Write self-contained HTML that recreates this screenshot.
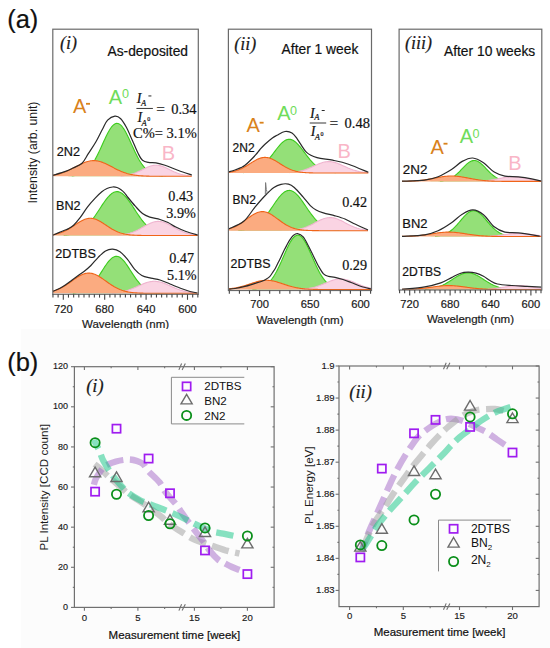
<!DOCTYPE html>
<html><head><meta charset="utf-8"><style>
html,body{margin:0;padding:0;background:#fff;width:550px;height:648px;overflow:hidden;}
svg{display:block;}
</style></head><body>
<svg width="550" height="648" viewBox="0 0 550 648"><clipPath id="clip0"><rect x="52.8" y="29.2" width="145.5" height="265.1"/></clipPath>
<g clip-path="url(#clip0)">
<path d="M52.8,176.3 L53.8,176.3 L54.8,176.29 L55.8,176.29 L56.8,176.29 L57.8,176.29 L58.8,176.28 L59.8,176.28 L60.8,176.27 L61.8,176.26 L62.8,176.25 L63.8,176.24 L64.8,176.22 L65.8,176.2 L66.8,176.17 L67.8,176.13 L68.8,176.09 L69.8,176.04 L70.8,175.97 L71.8,175.89 L72.8,175.79 L73.8,175.67 L74.8,175.53 L75.8,175.37 L76.8,175.17 L77.8,174.93 L78.8,174.65 L79.8,174.33 L80.8,173.96 L81.8,173.52 L82.8,173.02 L83.8,172.45 L84.8,171.81 L85.8,171.08 L86.8,170.25 L87.8,169.34 L88.8,168.32 L89.8,167.19 L90.8,165.96 L91.8,164.62 L92.8,163.16 L93.8,161.59 L94.8,159.91 L95.8,158.13 L96.8,156.25 L97.8,154.28 L98.8,152.24 L99.8,150.12 L100.8,147.96 L101.8,145.76 L102.8,143.55 L103.8,141.35 L104.8,139.17 L105.8,137.04 L106.8,134.99 L107.8,133.04 L108.8,131.22 L109.8,129.54 L110.8,128.02 L111.8,126.69 L112.8,125.57 L113.8,124.67 L114.8,124.01 L115.8,123.58 L116.8,123.41 L117.8,123.48 L118.8,123.81 L119.8,124.38 L120.8,125.19 L121.8,126.22 L122.8,127.47 L123.8,128.91 L124.8,130.53 L125.8,132.3 L126.8,134.2 L127.8,136.21 L128.8,138.31 L129.8,140.47 L130.8,142.67 L131.8,144.88 L132.8,147.08 L133.8,149.26 L134.8,151.4 L135.8,153.47 L136.8,155.48 L137.8,157.39 L138.8,159.21 L139.8,160.93 L140.8,162.55 L141.8,164.05 L142.8,165.44 L143.8,166.71 L144.8,167.88 L145.8,168.94 L146.8,169.9 L147.8,170.76 L148.8,171.52 L149.8,172.2 L150.8,172.8 L151.8,173.33 L152.8,173.79 L153.8,174.19 L154.8,174.53 L155.8,174.83 L156.8,175.08 L157.8,175.29 L158.8,175.47 L159.8,175.62 L160.8,175.75 L161.8,175.85 L162.8,175.94 L163.8,176.01 L164.8,176.07 L165.8,176.12 L166.8,176.15 L167.8,176.19 L168.8,176.21 L169.8,176.23 L170.8,176.25 L171.8,176.26 L172.8,176.27 L173.8,176.28 L174.8,176.28 L175.8,176.29 L176.8,176.29 L177.8,176.29 L178.8,176.29 L179.8,176.3 L180.8,176.3 L181.8,176.3 L182.8,176.3 L183.8,176.3 L184.8,176.3 L185.8,176.3 L186.8,176.3 L187.8,176.3 L188.8,176.3 L189.8,176.3 L190.8,176.3 L191.8,176.3 L191.8,176.3 L52.8,176.3 Z" fill="#94e078" stroke="none"/>
<path d="M71.8,175.89 L72.8,175.79 L73.8,175.67 L74.8,175.53 L75.8,175.37 L76.8,175.17 L77.8,174.93 L78.8,174.65 L79.8,174.33 L80.8,173.96 L81.8,173.52 L82.8,173.02 L83.8,172.45 L84.8,171.81 L85.8,171.08 L86.8,170.25 L87.8,169.34 L88.8,168.32 L89.8,167.19 L90.8,165.96 L91.8,164.62 L92.8,163.16 L93.8,161.59 L94.8,159.91 L95.8,158.13 L96.8,156.25 L97.8,154.28 L98.8,152.24 L99.8,150.12 L100.8,147.96 L101.8,145.76 L102.8,143.55 L103.8,141.35 L104.8,139.17 L105.8,137.04 L106.8,134.99 L107.8,133.04 L108.8,131.22 L109.8,129.54 L110.8,128.02 L111.8,126.69 L112.8,125.57 L113.8,124.67 L114.8,124.01 L115.8,123.58 L116.8,123.41 L117.8,123.48 L118.8,123.81 L119.8,124.38 L120.8,125.19 L121.8,126.22 L122.8,127.47 L123.8,128.91 L124.8,130.53 L125.8,132.3 L126.8,134.2 L127.8,136.21 L128.8,138.31 L129.8,140.47 L130.8,142.67 L131.8,144.88 L132.8,147.08 L133.8,149.26 L134.8,151.4 L135.8,153.47 L136.8,155.48 L137.8,157.39 L138.8,159.21 L139.8,160.93 L140.8,162.55 L141.8,164.05 L142.8,165.44 L143.8,166.71 L144.8,167.88 L145.8,168.94 L146.8,169.9 L147.8,170.76 L148.8,171.52 L149.8,172.2 L150.8,172.8 L151.8,173.33 L152.8,173.79 L153.8,174.19 L154.8,174.53 L155.8,174.83 L156.8,175.08 L157.8,175.29 L158.8,175.47 L159.8,175.62 L160.8,175.75 L161.8,175.85 L162.8,175.94" fill="none" stroke="#3ccc1c" stroke-width="1.1"/>
<path d="M52.8,176.3 L53.8,176.3 L54.8,176.3 L55.8,176.3 L56.8,176.3 L57.8,176.3 L58.8,176.3 L59.8,176.3 L60.8,176.3 L61.8,176.3 L62.8,176.3 L63.8,176.3 L64.8,176.3 L65.8,176.3 L66.8,176.3 L67.8,176.3 L68.8,176.3 L69.8,176.3 L70.8,176.3 L71.8,176.3 L72.8,176.3 L73.8,176.3 L74.8,176.3 L75.8,176.3 L76.8,176.3 L77.8,176.3 L78.8,176.3 L79.8,176.3 L80.8,176.3 L81.8,176.3 L82.8,176.3 L83.8,176.3 L84.8,176.3 L85.8,176.3 L86.8,176.3 L87.8,176.3 L88.8,176.3 L89.8,176.3 L90.8,176.3 L91.8,176.3 L92.8,176.3 L93.8,176.3 L94.8,176.3 L95.8,176.3 L96.8,176.3 L97.8,176.3 L98.8,176.3 L99.8,176.3 L100.8,176.3 L101.8,176.3 L102.8,176.3 L103.8,176.29 L104.8,176.29 L105.8,176.29 L106.8,176.29 L107.8,176.28 L108.8,176.28 L109.8,176.27 L110.8,176.26 L111.8,176.25 L112.8,176.23 L113.8,176.22 L114.8,176.19 L115.8,176.17 L116.8,176.14 L117.8,176.1 L118.8,176.05 L119.8,176 L120.8,175.93 L121.8,175.85 L122.8,175.76 L123.8,175.65 L124.8,175.53 L125.8,175.39 L126.8,175.23 L127.8,175.05 L128.8,174.84 L129.8,174.61 L130.8,174.36 L131.8,174.07 L132.8,173.76 L133.8,173.43 L134.8,173.07 L135.8,172.68 L136.8,172.26 L137.8,171.83 L138.8,171.37 L139.8,170.9 L140.8,170.41 L141.8,169.92 L142.8,169.42 L143.8,168.92 L144.8,168.43 L145.8,167.96 L146.8,167.5 L147.8,167.07 L148.8,166.67 L149.8,166.31 L150.8,165.99 L151.8,165.72 L152.8,165.51 L153.8,165.35 L154.8,165.24 L155.8,165.2 L156.8,165.22 L157.8,165.3 L158.8,165.44 L159.8,165.63 L160.8,165.88 L161.8,166.18 L162.8,166.52 L163.8,166.91 L164.8,167.32 L165.8,167.77 L166.8,168.24 L167.8,168.72 L168.8,169.22 L169.8,169.72 L170.8,170.21 L171.8,170.7 L172.8,171.18 L173.8,171.65 L174.8,172.09 L175.8,172.51 L176.8,172.91 L177.8,173.29 L178.8,173.63 L179.8,173.95 L180.8,174.25 L181.8,174.51 L182.8,174.75 L183.8,174.97 L184.8,175.16 L185.8,175.33 L186.8,175.48 L187.8,175.61 L188.8,175.72 L189.8,175.82 L190.8,175.9 L191.8,175.97 L191.8,176.3 L52.8,176.3 Z" fill="#fad4e3" stroke="none"/>
<path d="M120.8,175.93 L121.8,175.85 L122.8,175.76 L123.8,175.65 L124.8,175.53 L125.8,175.39 L126.8,175.23 L127.8,175.05 L128.8,174.84 L129.8,174.61 L130.8,174.36 L131.8,174.07 L132.8,173.76 L133.8,173.43 L134.8,173.07 L135.8,172.68 L136.8,172.26 L137.8,171.83 L138.8,171.37 L139.8,170.9 L140.8,170.41 L141.8,169.92 L142.8,169.42 L143.8,168.92 L144.8,168.43 L145.8,167.96 L146.8,167.5 L147.8,167.07 L148.8,166.67 L149.8,166.31 L150.8,165.99 L151.8,165.72 L152.8,165.51 L153.8,165.35 L154.8,165.24 L155.8,165.2 L156.8,165.22 L157.8,165.3 L158.8,165.44 L159.8,165.63 L160.8,165.88 L161.8,166.18 L162.8,166.52 L163.8,166.91 L164.8,167.32 L165.8,167.77 L166.8,168.24 L167.8,168.72 L168.8,169.22 L169.8,169.72 L170.8,170.21 L171.8,170.7 L172.8,171.18 L173.8,171.65 L174.8,172.09 L175.8,172.51 L176.8,172.91 L177.8,173.29 L178.8,173.63 L179.8,173.95 L180.8,174.25 L181.8,174.51 L182.8,174.75 L183.8,174.97 L184.8,175.16 L185.8,175.33 L186.8,175.48 L187.8,175.61 L188.8,175.72 L189.8,175.82 L190.8,175.9" fill="none" stroke="#efb4cf" stroke-width="1.1"/>
<path d="M52.8,175.11 L53.8,174.95 L54.8,174.78 L55.8,174.59 L56.8,174.38 L57.8,174.15 L58.8,173.9 L59.8,173.64 L60.8,173.35 L61.8,173.03 L62.8,172.7 L63.8,172.35 L64.8,171.97 L65.8,171.58 L66.8,171.16 L67.8,170.72 L68.8,170.27 L69.8,169.8 L70.8,169.31 L71.8,168.81 L72.8,168.3 L73.8,167.78 L74.8,167.25 L75.8,166.72 L76.8,166.2 L77.8,165.67 L78.8,165.15 L79.8,164.65 L80.8,164.16 L81.8,163.68 L82.8,163.23 L83.8,162.8 L84.8,162.41 L85.8,162.04 L86.8,161.71 L87.8,161.42 L88.8,161.17 L89.8,160.96 L90.8,160.8 L91.8,160.69 L92.8,160.62 L93.8,160.6 L94.8,160.63 L95.8,160.71 L96.8,160.83 L97.8,161 L98.8,161.22 L99.8,161.48 L100.8,161.78 L101.8,162.11 L102.8,162.48 L103.8,162.89 L104.8,163.32 L105.8,163.78 L106.8,164.25 L107.8,164.75 L108.8,165.26 L109.8,165.78 L110.8,166.3 L111.8,166.83 L112.8,167.36 L113.8,167.88 L114.8,168.4 L115.8,168.91 L116.8,169.41 L117.8,169.89 L118.8,170.36 L119.8,170.81 L120.8,171.25 L121.8,171.66 L122.8,172.05 L123.8,172.42 L124.8,172.77 L125.8,173.1 L126.8,173.41 L127.8,173.69 L128.8,173.95 L129.8,174.2 L130.8,174.42 L131.8,174.63 L132.8,174.82 L133.8,174.99 L134.8,175.14 L135.8,175.28 L136.8,175.41 L137.8,175.52 L138.8,175.62 L139.8,175.71 L140.8,175.79 L141.8,175.86 L142.8,175.92 L143.8,175.97 L144.8,176.02 L145.8,176.06 L146.8,176.1 L147.8,176.13 L148.8,176.16 L149.8,176.18 L150.8,176.2 L151.8,176.21 L152.8,176.23 L153.8,176.24 L154.8,176.25 L155.8,176.26 L156.8,176.27 L157.8,176.27 L158.8,176.28 L159.8,176.28 L160.8,176.28 L161.8,176.29 L162.8,176.29 L163.8,176.29 L164.8,176.29 L165.8,176.29 L166.8,176.3 L167.8,176.3 L168.8,176.3 L169.8,176.3 L170.8,176.3 L171.8,176.3 L172.8,176.3 L173.8,176.3 L174.8,176.3 L175.8,176.3 L176.8,176.3 L177.8,176.3 L178.8,176.3 L179.8,176.3 L180.8,176.3 L181.8,176.3 L182.8,176.3 L183.8,176.3 L184.8,176.3 L185.8,176.3 L186.8,176.3 L187.8,176.3 L188.8,176.3 L189.8,176.3 L190.8,176.3 L191.8,176.3 L191.8,176.3 L52.8,176.3 Z" fill="#fbab80" stroke="none"/>
<path d="M52.8,175.11 L53.8,174.95 L54.8,174.78 L55.8,174.59 L56.8,174.38 L57.8,174.15 L58.8,173.9 L59.8,173.64 L60.8,173.35 L61.8,173.03 L62.8,172.7 L63.8,172.35 L64.8,171.97 L65.8,171.58 L66.8,171.16 L67.8,170.72 L68.8,170.27 L69.8,169.8 L70.8,169.31 L71.8,168.81 L72.8,168.3 L73.8,167.78 L74.8,167.25 L75.8,166.72 L76.8,166.2 L77.8,165.67 L78.8,165.15 L79.8,164.65 L80.8,164.16 L81.8,163.68 L82.8,163.23 L83.8,162.8 L84.8,162.41 L85.8,162.04 L86.8,161.71 L87.8,161.42 L88.8,161.17 L89.8,160.96 L90.8,160.8 L91.8,160.69 L92.8,160.62 L93.8,160.6 L94.8,160.63 L95.8,160.71 L96.8,160.83 L97.8,161 L98.8,161.22 L99.8,161.48 L100.8,161.78 L101.8,162.11 L102.8,162.48 L103.8,162.89 L104.8,163.32 L105.8,163.78 L106.8,164.25 L107.8,164.75 L108.8,165.26 L109.8,165.78 L110.8,166.3 L111.8,166.83 L112.8,167.36 L113.8,167.88 L114.8,168.4 L115.8,168.91 L116.8,169.41 L117.8,169.89 L118.8,170.36 L119.8,170.81 L120.8,171.25 L121.8,171.66 L122.8,172.05 L123.8,172.42 L124.8,172.77 L125.8,173.1 L126.8,173.41 L127.8,173.69 L128.8,173.95 L129.8,174.2 L130.8,174.42 L131.8,174.63 L132.8,174.82 L133.8,174.99 L134.8,175.14 L135.8,175.28 L136.8,175.41 L137.8,175.52 L138.8,175.62 L139.8,175.71 L140.8,175.79 L141.8,175.86 L142.8,175.92 L143.8,175.97 L144.8,176.02 L145.8,176.06 L146.8,176.1 L147.8,176.13 L148.8,176.16 L149.8,176.18 L150.8,176.2 L151.8,176.21 L152.8,176.23 L153.8,176.24 L154.8,176.25 L155.8,176.26 L156.8,176.27 L157.8,176.27 L158.8,176.28 L159.8,176.28 L160.8,176.28 L161.8,176.29 L162.8,176.29 L163.8,176.29 L164.8,176.29 L165.8,176.29 L166.8,176.3 L167.8,176.3 L168.8,176.3 L169.8,176.3 L170.8,176.3 L171.8,176.3 L172.8,176.3 L173.8,176.3 L174.8,176.3 L175.8,176.3 L176.8,176.3 L177.8,176.3 L178.8,176.3 L179.8,176.3 L180.8,176.3 L181.8,176.3 L182.8,176.3 L183.8,176.3 L184.8,176.3 L185.8,176.3 L186.8,176.3 L187.8,176.3 L188.8,176.3 L189.8,176.3 L190.8,176.3 L191.8,176.3" fill="none" stroke="#f06418" stroke-width="1.1"/>
<path d="M52.8,175.4 C54.92,174.73 62.13,172.63 65.5,171.4 C68.87,170.17 70.25,169.37 73,168 C75.75,166.63 79.45,165.6 82,163.2 C84.55,160.8 86,157.13 88.3,153.6 C90.6,150.07 93.47,146.02 95.8,142 C98.13,137.98 100.33,133.13 102.3,129.5 C104.27,125.87 105.5,122.43 107.6,120.2 C109.7,117.97 112.72,116.35 114.9,116.1 C117.08,115.85 118.77,116.8 120.7,118.7 C122.63,120.6 124.55,123.87 126.5,127.5 C128.45,131.13 130.45,136.15 132.4,140.5 C134.35,144.85 136.52,150.32 138.2,153.6 C139.88,156.88 140.8,158.73 142.5,160.2 C144.2,161.67 146.15,161.97 148.4,162.4 C150.65,162.83 153.23,162.33 156,162.8 C158.77,163.27 161.25,163.92 165,165.2 C168.75,166.48 174.03,168.85 178.5,170.5 C182.97,172.15 189.58,174.33 191.8,175.1" fill="none" stroke="#2a2a2a" stroke-width="1.2"/>
<path d="M52.8,235.46 L53.8,235.44 L54.8,235.43 L55.8,235.42 L56.8,235.4 L57.8,235.37 L58.8,235.35 L59.8,235.31 L60.8,235.28 L61.8,235.23 L62.8,235.18 L63.8,235.11 L64.8,235.04 L65.8,234.95 L66.8,234.85 L67.8,234.73 L68.8,234.59 L69.8,234.44 L70.8,234.26 L71.8,234.05 L72.8,233.82 L73.8,233.56 L74.8,233.26 L75.8,232.92 L76.8,232.55 L77.8,232.13 L78.8,231.67 L79.8,231.15 L80.8,230.58 L81.8,229.96 L82.8,229.28 L83.8,228.54 L84.8,227.73 L85.8,226.87 L86.8,225.93 L87.8,224.94 L88.8,223.87 L89.8,222.75 L90.8,221.55 L91.8,220.3 L92.8,219 L93.8,217.64 L94.8,216.23 L95.8,214.78 L96.8,213.3 L97.8,211.79 L98.8,210.26 L99.8,208.72 L100.8,207.18 L101.8,205.66 L102.8,204.16 L103.8,202.69 L104.8,201.26 L105.8,199.9 L106.8,198.6 L107.8,197.39 L108.8,196.26 L109.8,195.24 L110.8,194.33 L111.8,193.54 L112.8,192.87 L113.8,192.34 L114.8,191.95 L115.8,191.71 L116.8,191.6 L117.8,191.65 L118.8,191.84 L119.8,192.17 L120.8,192.65 L121.8,193.26 L122.8,194 L123.8,194.86 L124.8,195.84 L125.8,196.93 L126.8,198.11 L127.8,199.37 L128.8,200.71 L129.8,202.11 L130.8,203.56 L131.8,205.05 L132.8,206.57 L133.8,208.1 L134.8,209.64 L135.8,211.18 L136.8,212.7 L137.8,214.19 L138.8,215.65 L139.8,217.08 L140.8,218.46 L141.8,219.79 L142.8,221.06 L143.8,222.28 L144.8,223.43 L145.8,224.52 L146.8,225.54 L147.8,226.5 L148.8,227.39 L149.8,228.22 L150.8,228.99 L151.8,229.69 L152.8,230.34 L153.8,230.93 L154.8,231.47 L155.8,231.95 L156.8,232.39 L157.8,232.78 L158.8,233.13 L159.8,233.44 L160.8,233.72 L161.8,233.96 L162.8,234.18 L163.8,234.37 L164.8,234.53 L165.8,234.68 L166.8,234.8 L167.8,234.91 L168.8,235 L169.8,235.08 L170.8,235.15 L171.8,235.21 L172.8,235.26 L173.8,235.3 L174.8,235.33 L175.8,235.36 L176.8,235.39 L177.8,235.41 L178.8,235.43 L179.8,235.44 L180.8,235.45 L181.8,235.46 L182.8,235.47 L183.8,235.47 L184.8,235.48 L185.8,235.48 L186.8,235.49 L187.8,235.49 L188.8,235.49 L189.8,235.49 L190.8,235.5 L191.8,235.5 L192.8,235.5 L193.8,235.5 L194.8,235.5 L195.8,235.5 L196.8,235.5 L197.8,235.5 L197.8,235.5 L52.8,235.5 Z" fill="#94e078" stroke="none"/>
<path d="M63.8,235.11 L64.8,235.04 L65.8,234.95 L66.8,234.85 L67.8,234.73 L68.8,234.59 L69.8,234.44 L70.8,234.26 L71.8,234.05 L72.8,233.82 L73.8,233.56 L74.8,233.26 L75.8,232.92 L76.8,232.55 L77.8,232.13 L78.8,231.67 L79.8,231.15 L80.8,230.58 L81.8,229.96 L82.8,229.28 L83.8,228.54 L84.8,227.73 L85.8,226.87 L86.8,225.93 L87.8,224.94 L88.8,223.87 L89.8,222.75 L90.8,221.55 L91.8,220.3 L92.8,219 L93.8,217.64 L94.8,216.23 L95.8,214.78 L96.8,213.3 L97.8,211.79 L98.8,210.26 L99.8,208.72 L100.8,207.18 L101.8,205.66 L102.8,204.16 L103.8,202.69 L104.8,201.26 L105.8,199.9 L106.8,198.6 L107.8,197.39 L108.8,196.26 L109.8,195.24 L110.8,194.33 L111.8,193.54 L112.8,192.87 L113.8,192.34 L114.8,191.95 L115.8,191.71 L116.8,191.6 L117.8,191.65 L118.8,191.84 L119.8,192.17 L120.8,192.65 L121.8,193.26 L122.8,194 L123.8,194.86 L124.8,195.84 L125.8,196.93 L126.8,198.11 L127.8,199.37 L128.8,200.71 L129.8,202.11 L130.8,203.56 L131.8,205.05 L132.8,206.57 L133.8,208.1 L134.8,209.64 L135.8,211.18 L136.8,212.7 L137.8,214.19 L138.8,215.65 L139.8,217.08 L140.8,218.46 L141.8,219.79 L142.8,221.06 L143.8,222.28 L144.8,223.43 L145.8,224.52 L146.8,225.54 L147.8,226.5 L148.8,227.39 L149.8,228.22 L150.8,228.99 L151.8,229.69 L152.8,230.34 L153.8,230.93 L154.8,231.47 L155.8,231.95 L156.8,232.39 L157.8,232.78 L158.8,233.13 L159.8,233.44 L160.8,233.72 L161.8,233.96 L162.8,234.18 L163.8,234.37 L164.8,234.53 L165.8,234.68 L166.8,234.8 L167.8,234.91 L168.8,235 L169.8,235.08" fill="none" stroke="#3ccc1c" stroke-width="1.1"/>
<path d="M52.8,235.5 L53.8,235.5 L54.8,235.5 L55.8,235.5 L56.8,235.5 L57.8,235.5 L58.8,235.5 L59.8,235.5 L60.8,235.5 L61.8,235.5 L62.8,235.5 L63.8,235.5 L64.8,235.5 L65.8,235.5 L66.8,235.5 L67.8,235.5 L68.8,235.5 L69.8,235.5 L70.8,235.5 L71.8,235.5 L72.8,235.5 L73.8,235.5 L74.8,235.5 L75.8,235.5 L76.8,235.5 L77.8,235.5 L78.8,235.5 L79.8,235.5 L80.8,235.5 L81.8,235.5 L82.8,235.5 L83.8,235.5 L84.8,235.5 L85.8,235.5 L86.8,235.5 L87.8,235.5 L88.8,235.5 L89.8,235.5 L90.8,235.5 L91.8,235.5 L92.8,235.5 L93.8,235.5 L94.8,235.5 L95.8,235.5 L96.8,235.5 L97.8,235.5 L98.8,235.49 L99.8,235.49 L100.8,235.49 L101.8,235.49 L102.8,235.48 L103.8,235.48 L104.8,235.48 L105.8,235.47 L106.8,235.46 L107.8,235.45 L108.8,235.44 L109.8,235.42 L110.8,235.41 L111.8,235.38 L112.8,235.36 L113.8,235.33 L114.8,235.29 L115.8,235.25 L116.8,235.19 L117.8,235.13 L118.8,235.06 L119.8,234.98 L120.8,234.88 L121.8,234.77 L122.8,234.64 L123.8,234.5 L124.8,234.34 L125.8,234.15 L126.8,233.95 L127.8,233.72 L128.8,233.46 L129.8,233.18 L130.8,232.87 L131.8,232.54 L132.8,232.18 L133.8,231.79 L134.8,231.37 L135.8,230.92 L136.8,230.45 L137.8,229.96 L138.8,229.44 L139.8,228.91 L140.8,228.36 L141.8,227.8 L142.8,227.23 L143.8,226.66 L144.8,226.1 L145.8,225.54 L146.8,224.99 L147.8,224.46 L148.8,223.96 L149.8,223.49 L150.8,223.06 L151.8,222.66 L152.8,222.32 L153.8,222.02 L154.8,221.78 L155.8,221.59 L156.8,221.47 L157.8,221.41 L158.8,221.41 L159.8,221.47 L160.8,221.59 L161.8,221.78 L162.8,222.02 L163.8,222.32 L164.8,222.66 L165.8,223.06 L166.8,223.49 L167.8,223.96 L168.8,224.46 L169.8,224.99 L170.8,225.54 L171.8,226.1 L172.8,226.66 L173.8,227.23 L174.8,227.8 L175.8,228.36 L176.8,228.91 L177.8,229.44 L178.8,229.96 L179.8,230.45 L180.8,230.92 L181.8,231.37 L182.8,231.79 L183.8,232.18 L184.8,232.54 L185.8,232.87 L186.8,233.18 L187.8,233.46 L188.8,233.72 L189.8,233.95 L190.8,234.15 L191.8,234.34 L192.8,234.5 L193.8,234.64 L194.8,234.77 L195.8,234.88 L196.8,234.98 L197.8,235.06 L197.8,235.5 L52.8,235.5 Z" fill="#fad4e3" stroke="none"/>
<path d="M117.8,235.13 L118.8,235.06 L119.8,234.98 L120.8,234.88 L121.8,234.77 L122.8,234.64 L123.8,234.5 L124.8,234.34 L125.8,234.15 L126.8,233.95 L127.8,233.72 L128.8,233.46 L129.8,233.18 L130.8,232.87 L131.8,232.54 L132.8,232.18 L133.8,231.79 L134.8,231.37 L135.8,230.92 L136.8,230.45 L137.8,229.96 L138.8,229.44 L139.8,228.91 L140.8,228.36 L141.8,227.8 L142.8,227.23 L143.8,226.66 L144.8,226.1 L145.8,225.54 L146.8,224.99 L147.8,224.46 L148.8,223.96 L149.8,223.49 L150.8,223.06 L151.8,222.66 L152.8,222.32 L153.8,222.02 L154.8,221.78 L155.8,221.59 L156.8,221.47 L157.8,221.41 L158.8,221.41 L159.8,221.47 L160.8,221.59 L161.8,221.78 L162.8,222.02 L163.8,222.32 L164.8,222.66 L165.8,223.06 L166.8,223.49 L167.8,223.96 L168.8,224.46 L169.8,224.99 L170.8,225.54 L171.8,226.1 L172.8,226.66 L173.8,227.23 L174.8,227.8 L175.8,228.36 L176.8,228.91 L177.8,229.44 L178.8,229.96 L179.8,230.45 L180.8,230.92 L181.8,231.37 L182.8,231.79 L183.8,232.18 L184.8,232.54 L185.8,232.87 L186.8,233.18 L187.8,233.46 L188.8,233.72 L189.8,233.95 L190.8,234.15 L191.8,234.34 L192.8,234.5 L193.8,234.64 L194.8,234.77 L195.8,234.88 L196.8,234.98 L197.8,235.06" fill="none" stroke="#efb4cf" stroke-width="1.1"/>
<path d="M52.8,234.58 L53.8,234.43 L54.8,234.25 L55.8,234.06 L56.8,233.84 L57.8,233.59 L58.8,233.32 L59.8,233.02 L60.8,232.69 L61.8,232.33 L62.8,231.94 L63.8,231.51 L64.8,231.06 L65.8,230.57 L66.8,230.05 L67.8,229.5 L68.8,228.93 L69.8,228.33 L70.8,227.7 L71.8,227.06 L72.8,226.41 L73.8,225.74 L74.8,225.07 L75.8,224.4 L76.8,223.73 L77.8,223.07 L78.8,222.44 L79.8,221.83 L80.8,221.25 L81.8,220.7 L82.8,220.2 L83.8,219.75 L84.8,219.35 L85.8,219.01 L86.8,218.73 L87.8,218.52 L88.8,218.38 L89.8,218.31 L90.8,218.31 L91.8,218.38 L92.8,218.52 L93.8,218.73 L94.8,219.01 L95.8,219.35 L96.8,219.75 L97.8,220.2 L98.8,220.7 L99.8,221.25 L100.8,221.83 L101.8,222.44 L102.8,223.07 L103.8,223.73 L104.8,224.4 L105.8,225.07 L106.8,225.74 L107.8,226.41 L108.8,227.06 L109.8,227.7 L110.8,228.33 L111.8,228.93 L112.8,229.5 L113.8,230.05 L114.8,230.57 L115.8,231.06 L116.8,231.51 L117.8,231.94 L118.8,232.33 L119.8,232.69 L120.8,233.02 L121.8,233.32 L122.8,233.59 L123.8,233.84 L124.8,234.06 L125.8,234.25 L126.8,234.43 L127.8,234.58 L128.8,234.71 L129.8,234.83 L130.8,234.93 L131.8,235.02 L132.8,235.1 L133.8,235.16 L134.8,235.22 L135.8,235.27 L136.8,235.31 L137.8,235.34 L138.8,235.37 L139.8,235.4 L140.8,235.41 L141.8,235.43 L142.8,235.44 L143.8,235.46 L144.8,235.46 L145.8,235.47 L146.8,235.48 L147.8,235.48 L148.8,235.49 L149.8,235.49 L150.8,235.49 L151.8,235.49 L152.8,235.49 L153.8,235.5 L154.8,235.5 L155.8,235.5 L156.8,235.5 L157.8,235.5 L158.8,235.5 L159.8,235.5 L160.8,235.5 L161.8,235.5 L162.8,235.5 L163.8,235.5 L164.8,235.5 L165.8,235.5 L166.8,235.5 L167.8,235.5 L168.8,235.5 L169.8,235.5 L170.8,235.5 L171.8,235.5 L172.8,235.5 L173.8,235.5 L174.8,235.5 L175.8,235.5 L176.8,235.5 L177.8,235.5 L178.8,235.5 L179.8,235.5 L180.8,235.5 L181.8,235.5 L182.8,235.5 L183.8,235.5 L184.8,235.5 L185.8,235.5 L186.8,235.5 L187.8,235.5 L188.8,235.5 L189.8,235.5 L190.8,235.5 L191.8,235.5 L192.8,235.5 L193.8,235.5 L194.8,235.5 L195.8,235.5 L196.8,235.5 L197.8,235.5 L197.8,235.5 L52.8,235.5 Z" fill="#fbab80" stroke="none"/>
<path d="M52.8,234.58 L53.8,234.43 L54.8,234.25 L55.8,234.06 L56.8,233.84 L57.8,233.59 L58.8,233.32 L59.8,233.02 L60.8,232.69 L61.8,232.33 L62.8,231.94 L63.8,231.51 L64.8,231.06 L65.8,230.57 L66.8,230.05 L67.8,229.5 L68.8,228.93 L69.8,228.33 L70.8,227.7 L71.8,227.06 L72.8,226.41 L73.8,225.74 L74.8,225.07 L75.8,224.4 L76.8,223.73 L77.8,223.07 L78.8,222.44 L79.8,221.83 L80.8,221.25 L81.8,220.7 L82.8,220.2 L83.8,219.75 L84.8,219.35 L85.8,219.01 L86.8,218.73 L87.8,218.52 L88.8,218.38 L89.8,218.31 L90.8,218.31 L91.8,218.38 L92.8,218.52 L93.8,218.73 L94.8,219.01 L95.8,219.35 L96.8,219.75 L97.8,220.2 L98.8,220.7 L99.8,221.25 L100.8,221.83 L101.8,222.44 L102.8,223.07 L103.8,223.73 L104.8,224.4 L105.8,225.07 L106.8,225.74 L107.8,226.41 L108.8,227.06 L109.8,227.7 L110.8,228.33 L111.8,228.93 L112.8,229.5 L113.8,230.05 L114.8,230.57 L115.8,231.06 L116.8,231.51 L117.8,231.94 L118.8,232.33 L119.8,232.69 L120.8,233.02 L121.8,233.32 L122.8,233.59 L123.8,233.84 L124.8,234.06 L125.8,234.25 L126.8,234.43 L127.8,234.58 L128.8,234.71 L129.8,234.83 L130.8,234.93 L131.8,235.02 L132.8,235.1 L133.8,235.16 L134.8,235.22 L135.8,235.27 L136.8,235.31 L137.8,235.34 L138.8,235.37 L139.8,235.4 L140.8,235.41 L141.8,235.43 L142.8,235.44 L143.8,235.46 L144.8,235.46 L145.8,235.47 L146.8,235.48 L147.8,235.48 L148.8,235.49 L149.8,235.49 L150.8,235.49 L151.8,235.49 L152.8,235.49 L153.8,235.5 L154.8,235.5 L155.8,235.5 L156.8,235.5 L157.8,235.5 L158.8,235.5 L159.8,235.5 L160.8,235.5 L161.8,235.5 L162.8,235.5 L163.8,235.5 L164.8,235.5 L165.8,235.5 L166.8,235.5 L167.8,235.5 L168.8,235.5 L169.8,235.5 L170.8,235.5 L171.8,235.5 L172.8,235.5 L173.8,235.5 L174.8,235.5 L175.8,235.5 L176.8,235.5 L177.8,235.5 L178.8,235.5 L179.8,235.5 L180.8,235.5 L181.8,235.5 L182.8,235.5 L183.8,235.5 L184.8,235.5 L185.8,235.5 L186.8,235.5 L187.8,235.5 L188.8,235.5 L189.8,235.5 L190.8,235.5 L191.8,235.5 L192.8,235.5 L193.8,235.5 L194.8,235.5 L195.8,235.5 L196.8,235.5 L197.8,235.5" fill="none" stroke="#f06418" stroke-width="1.1"/>
<path d="M52.8,235.2 C54.47,234.5 60.18,232.1 62.8,231 C65.42,229.9 66.7,229.57 68.5,228.6 C70.3,227.63 71.67,227.02 73.6,225.2 C75.53,223.38 77.77,220.75 80.1,217.7 C82.43,214.65 85.08,210.15 87.6,206.9 C90.12,203.65 92.83,200.72 95.2,198.2 C97.57,195.68 99.83,193.42 101.8,191.8 C103.77,190.18 105.18,189.3 107,188.5 C108.82,187.7 111.03,187.17 112.7,187 C114.37,186.83 115.67,187.08 117,187.5 C118.33,187.92 119.45,188.62 120.7,189.5 C121.95,190.38 123.28,191.47 124.5,192.8 C125.72,194.13 126.2,195.27 128,197.5 C129.8,199.73 132.88,203.53 135.3,206.2 C137.72,208.87 140.08,211.68 142.5,213.5 C144.92,215.32 146.88,216.1 149.8,217.1 C152.72,218.1 156.97,218.6 160,219.5 C163.03,220.4 165.37,221.25 168,222.5 C170.63,223.75 172.8,225.5 175.8,227 C178.8,228.5 182.33,230.17 186,231.5 C189.67,232.83 195.83,234.42 197.8,235" fill="none" stroke="#2a2a2a" stroke-width="1.2"/>
<path d="M52.8,293.3 L53.8,293.3 L54.8,293.3 L55.8,293.3 L56.8,293.29 L57.8,293.29 L58.8,293.29 L59.8,293.29 L60.8,293.28 L61.8,293.27 L62.8,293.27 L63.8,293.26 L64.8,293.24 L65.8,293.23 L66.8,293.21 L67.8,293.19 L68.8,293.15 L69.8,293.12 L70.8,293.07 L71.8,293.01 L72.8,292.95 L73.8,292.86 L74.8,292.76 L75.8,292.64 L76.8,292.5 L77.8,292.33 L78.8,292.13 L79.8,291.9 L80.8,291.63 L81.8,291.32 L82.8,290.96 L83.8,290.55 L84.8,290.08 L85.8,289.55 L86.8,288.96 L87.8,288.29 L88.8,287.55 L89.8,286.74 L90.8,285.85 L91.8,284.87 L92.8,283.82 L93.8,282.69 L94.8,281.48 L95.8,280.19 L96.8,278.84 L97.8,277.42 L98.8,275.95 L99.8,274.44 L100.8,272.89 L101.8,271.33 L102.8,269.76 L103.8,268.2 L104.8,266.67 L105.8,265.19 L106.8,263.76 L107.8,262.42 L108.8,261.17 L109.8,260.04 L110.8,259.03 L111.8,258.17 L112.8,257.45 L113.8,256.91 L114.8,256.53 L115.8,256.33 L116.8,256.31 L117.8,256.48 L118.8,256.82 L119.8,257.33 L120.8,258.01 L121.8,258.85 L122.8,259.83 L123.8,260.94 L124.8,262.16 L125.8,263.49 L126.8,264.9 L127.8,266.37 L128.8,267.89 L129.8,269.45 L130.8,271.02 L131.8,272.58 L132.8,274.13 L133.8,275.65 L134.8,277.13 L135.8,278.56 L136.8,279.93 L137.8,281.22 L138.8,282.45 L139.8,283.6 L140.8,284.67 L141.8,285.66 L142.8,286.57 L143.8,287.4 L144.8,288.15 L145.8,288.83 L146.8,289.44 L147.8,289.98 L148.8,290.46 L149.8,290.88 L150.8,291.25 L151.8,291.57 L152.8,291.85 L153.8,292.09 L154.8,292.29 L155.8,292.47 L156.8,292.62 L157.8,292.74 L158.8,292.84 L159.8,292.93 L160.8,293 L161.8,293.06 L162.8,293.11 L163.8,293.15 L164.8,293.18 L165.8,293.21 L166.8,293.23 L167.8,293.24 L168.8,293.26 L169.8,293.27 L170.8,293.27 L171.8,293.28 L172.8,293.28 L173.8,293.29 L174.8,293.29 L175.8,293.29 L176.8,293.3 L177.8,293.3 L178.8,293.3 L179.8,293.3 L180.8,293.3 L181.8,293.3 L182.8,293.3 L183.8,293.3 L184.8,293.3 L185.8,293.3 L186.8,293.3 L187.8,293.3 L188.8,293.3 L189.8,293.3 L190.8,293.3 L191.8,293.3 L192.8,293.3 L193.8,293.3 L194.8,293.3 L195.8,293.3 L196.8,293.3 L197.6,293.3 L197.6,293.3 L52.8,293.3 Z" fill="#94e078" stroke="none"/>
<path d="M72.8,292.95 L73.8,292.86 L74.8,292.76 L75.8,292.64 L76.8,292.5 L77.8,292.33 L78.8,292.13 L79.8,291.9 L80.8,291.63 L81.8,291.32 L82.8,290.96 L83.8,290.55 L84.8,290.08 L85.8,289.55 L86.8,288.96 L87.8,288.29 L88.8,287.55 L89.8,286.74 L90.8,285.85 L91.8,284.87 L92.8,283.82 L93.8,282.69 L94.8,281.48 L95.8,280.19 L96.8,278.84 L97.8,277.42 L98.8,275.95 L99.8,274.44 L100.8,272.89 L101.8,271.33 L102.8,269.76 L103.8,268.2 L104.8,266.67 L105.8,265.19 L106.8,263.76 L107.8,262.42 L108.8,261.17 L109.8,260.04 L110.8,259.03 L111.8,258.17 L112.8,257.45 L113.8,256.91 L114.8,256.53 L115.8,256.33 L116.8,256.31 L117.8,256.48 L118.8,256.82 L119.8,257.33 L120.8,258.01 L121.8,258.85 L122.8,259.83 L123.8,260.94 L124.8,262.16 L125.8,263.49 L126.8,264.9 L127.8,266.37 L128.8,267.89 L129.8,269.45 L130.8,271.02 L131.8,272.58 L132.8,274.13 L133.8,275.65 L134.8,277.13 L135.8,278.56 L136.8,279.93 L137.8,281.22 L138.8,282.45 L139.8,283.6 L140.8,284.67 L141.8,285.66 L142.8,286.57 L143.8,287.4 L144.8,288.15 L145.8,288.83 L146.8,289.44 L147.8,289.98 L148.8,290.46 L149.8,290.88 L150.8,291.25 L151.8,291.57 L152.8,291.85 L153.8,292.09 L154.8,292.29 L155.8,292.47 L156.8,292.62 L157.8,292.74 L158.8,292.84 L159.8,292.93" fill="none" stroke="#3ccc1c" stroke-width="1.1"/>
<path d="M52.8,293.3 L53.8,293.3 L54.8,293.3 L55.8,293.3 L56.8,293.3 L57.8,293.3 L58.8,293.3 L59.8,293.3 L60.8,293.3 L61.8,293.3 L62.8,293.3 L63.8,293.3 L64.8,293.3 L65.8,293.3 L66.8,293.3 L67.8,293.3 L68.8,293.3 L69.8,293.3 L70.8,293.3 L71.8,293.3 L72.8,293.3 L73.8,293.3 L74.8,293.3 L75.8,293.3 L76.8,293.3 L77.8,293.3 L78.8,293.3 L79.8,293.3 L80.8,293.3 L81.8,293.3 L82.8,293.3 L83.8,293.3 L84.8,293.3 L85.8,293.3 L86.8,293.3 L87.8,293.3 L88.8,293.3 L89.8,293.3 L90.8,293.3 L91.8,293.29 L92.8,293.29 L93.8,293.29 L94.8,293.29 L95.8,293.28 L96.8,293.28 L97.8,293.28 L98.8,293.27 L99.8,293.26 L100.8,293.26 L101.8,293.24 L102.8,293.23 L103.8,293.22 L104.8,293.2 L105.8,293.18 L106.8,293.15 L107.8,293.12 L108.8,293.09 L109.8,293.05 L110.8,293 L111.8,292.95 L112.8,292.88 L113.8,292.81 L114.8,292.73 L115.8,292.64 L116.8,292.53 L117.8,292.41 L118.8,292.28 L119.8,292.13 L120.8,291.96 L121.8,291.78 L122.8,291.57 L123.8,291.35 L124.8,291.11 L125.8,290.84 L126.8,290.56 L127.8,290.26 L128.8,289.93 L129.8,289.58 L130.8,289.22 L131.8,288.84 L132.8,288.43 L133.8,288.02 L134.8,287.59 L135.8,287.15 L136.8,286.7 L137.8,286.25 L138.8,285.79 L139.8,285.34 L140.8,284.89 L141.8,284.46 L142.8,284.03 L143.8,283.62 L144.8,283.24 L145.8,282.88 L146.8,282.55 L147.8,282.25 L148.8,281.99 L149.8,281.77 L150.8,281.58 L151.8,281.45 L152.8,281.35 L153.8,281.31 L154.8,281.31 L155.8,281.35 L156.8,281.45 L157.8,281.58 L158.8,281.77 L159.8,281.99 L160.8,282.25 L161.8,282.55 L162.8,282.88 L163.8,283.24 L164.8,283.62 L165.8,284.03 L166.8,284.46 L167.8,284.89 L168.8,285.34 L169.8,285.79 L170.8,286.25 L171.8,286.7 L172.8,287.15 L173.8,287.59 L174.8,288.02 L175.8,288.43 L176.8,288.84 L177.8,289.22 L178.8,289.58 L179.8,289.93 L180.8,290.26 L181.8,290.56 L182.8,290.84 L183.8,291.11 L184.8,291.35 L185.8,291.57 L186.8,291.78 L187.8,291.96 L188.8,292.13 L189.8,292.28 L190.8,292.41 L191.8,292.53 L192.8,292.64 L193.8,292.73 L194.8,292.81 L195.8,292.88 L196.8,292.95 L197.6,292.99 L197.6,293.3 L52.8,293.3 Z" fill="#fad4e3" stroke="none"/>
<path d="M111.8,292.95 L112.8,292.88 L113.8,292.81 L114.8,292.73 L115.8,292.64 L116.8,292.53 L117.8,292.41 L118.8,292.28 L119.8,292.13 L120.8,291.96 L121.8,291.78 L122.8,291.57 L123.8,291.35 L124.8,291.11 L125.8,290.84 L126.8,290.56 L127.8,290.26 L128.8,289.93 L129.8,289.58 L130.8,289.22 L131.8,288.84 L132.8,288.43 L133.8,288.02 L134.8,287.59 L135.8,287.15 L136.8,286.7 L137.8,286.25 L138.8,285.79 L139.8,285.34 L140.8,284.89 L141.8,284.46 L142.8,284.03 L143.8,283.62 L144.8,283.24 L145.8,282.88 L146.8,282.55 L147.8,282.25 L148.8,281.99 L149.8,281.77 L150.8,281.58 L151.8,281.45 L152.8,281.35 L153.8,281.31 L154.8,281.31 L155.8,281.35 L156.8,281.45 L157.8,281.58 L158.8,281.77 L159.8,281.99 L160.8,282.25 L161.8,282.55 L162.8,282.88 L163.8,283.24 L164.8,283.62 L165.8,284.03 L166.8,284.46 L167.8,284.89 L168.8,285.34 L169.8,285.79 L170.8,286.25 L171.8,286.7 L172.8,287.15 L173.8,287.59 L174.8,288.02 L175.8,288.43 L176.8,288.84 L177.8,289.22 L178.8,289.58 L179.8,289.93 L180.8,290.26 L181.8,290.56 L182.8,290.84 L183.8,291.11 L184.8,291.35 L185.8,291.57 L186.8,291.78 L187.8,291.96 L188.8,292.13 L189.8,292.28 L190.8,292.41 L191.8,292.53 L192.8,292.64 L193.8,292.73 L194.8,292.81 L195.8,292.88 L196.8,292.95" fill="none" stroke="#efb4cf" stroke-width="1.1"/>
<path d="M52.8,291.15 L53.8,290.87 L54.8,290.57 L55.8,290.23 L56.8,289.86 L57.8,289.47 L58.8,289.04 L59.8,288.59 L60.8,288.1 L61.8,287.58 L62.8,287.03 L63.8,286.45 L64.8,285.84 L65.8,285.21 L66.8,284.56 L67.8,283.88 L68.8,283.19 L69.8,282.48 L70.8,281.77 L71.8,281.05 L72.8,280.33 L73.8,279.61 L74.8,278.91 L75.8,278.22 L76.8,277.55 L77.8,276.92 L78.8,276.31 L79.8,275.74 L80.8,275.22 L81.8,274.74 L82.8,274.32 L83.8,273.96 L84.8,273.65 L85.8,273.41 L86.8,273.24 L87.8,273.13 L88.8,273.1 L89.8,273.13 L90.8,273.24 L91.8,273.41 L92.8,273.65 L93.8,273.96 L94.8,274.32 L95.8,274.74 L96.8,275.22 L97.8,275.74 L98.8,276.31 L99.8,276.92 L100.8,277.55 L101.8,278.22 L102.8,278.91 L103.8,279.61 L104.8,280.33 L105.8,281.05 L106.8,281.77 L107.8,282.48 L108.8,283.19 L109.8,283.88 L110.8,284.56 L111.8,285.21 L112.8,285.84 L113.8,286.45 L114.8,287.03 L115.8,287.58 L116.8,288.1 L117.8,288.59 L118.8,289.04 L119.8,289.47 L120.8,289.86 L121.8,290.23 L122.8,290.57 L123.8,290.87 L124.8,291.15 L125.8,291.41 L126.8,291.64 L127.8,291.85 L128.8,292.03 L129.8,292.2 L130.8,292.35 L131.8,292.48 L132.8,292.59 L133.8,292.69 L134.8,292.78 L135.8,292.86 L136.8,292.92 L137.8,292.98 L138.8,293.03 L139.8,293.08 L140.8,293.11 L141.8,293.14 L142.8,293.17 L143.8,293.19 L144.8,293.21 L145.8,293.23 L146.8,293.24 L147.8,293.25 L148.8,293.26 L149.8,293.27 L150.8,293.27 L151.8,293.28 L152.8,293.28 L153.8,293.29 L154.8,293.29 L155.8,293.29 L156.8,293.29 L157.8,293.29 L158.8,293.3 L159.8,293.3 L160.8,293.3 L161.8,293.3 L162.8,293.3 L163.8,293.3 L164.8,293.3 L165.8,293.3 L166.8,293.3 L167.8,293.3 L168.8,293.3 L169.8,293.3 L170.8,293.3 L171.8,293.3 L172.8,293.3 L173.8,293.3 L174.8,293.3 L175.8,293.3 L176.8,293.3 L177.8,293.3 L178.8,293.3 L179.8,293.3 L180.8,293.3 L181.8,293.3 L182.8,293.3 L183.8,293.3 L184.8,293.3 L185.8,293.3 L186.8,293.3 L187.8,293.3 L188.8,293.3 L189.8,293.3 L190.8,293.3 L191.8,293.3 L192.8,293.3 L193.8,293.3 L194.8,293.3 L195.8,293.3 L196.8,293.3 L197.6,293.3 L197.6,293.3 L52.8,293.3 Z" fill="#fbab80" stroke="none"/>
<path d="M52.8,291.15 L53.8,290.87 L54.8,290.57 L55.8,290.23 L56.8,289.86 L57.8,289.47 L58.8,289.04 L59.8,288.59 L60.8,288.1 L61.8,287.58 L62.8,287.03 L63.8,286.45 L64.8,285.84 L65.8,285.21 L66.8,284.56 L67.8,283.88 L68.8,283.19 L69.8,282.48 L70.8,281.77 L71.8,281.05 L72.8,280.33 L73.8,279.61 L74.8,278.91 L75.8,278.22 L76.8,277.55 L77.8,276.92 L78.8,276.31 L79.8,275.74 L80.8,275.22 L81.8,274.74 L82.8,274.32 L83.8,273.96 L84.8,273.65 L85.8,273.41 L86.8,273.24 L87.8,273.13 L88.8,273.1 L89.8,273.13 L90.8,273.24 L91.8,273.41 L92.8,273.65 L93.8,273.96 L94.8,274.32 L95.8,274.74 L96.8,275.22 L97.8,275.74 L98.8,276.31 L99.8,276.92 L100.8,277.55 L101.8,278.22 L102.8,278.91 L103.8,279.61 L104.8,280.33 L105.8,281.05 L106.8,281.77 L107.8,282.48 L108.8,283.19 L109.8,283.88 L110.8,284.56 L111.8,285.21 L112.8,285.84 L113.8,286.45 L114.8,287.03 L115.8,287.58 L116.8,288.1 L117.8,288.59 L118.8,289.04 L119.8,289.47 L120.8,289.86 L121.8,290.23 L122.8,290.57 L123.8,290.87 L124.8,291.15 L125.8,291.41 L126.8,291.64 L127.8,291.85 L128.8,292.03 L129.8,292.2 L130.8,292.35 L131.8,292.48 L132.8,292.59 L133.8,292.69 L134.8,292.78 L135.8,292.86 L136.8,292.92 L137.8,292.98 L138.8,293.03 L139.8,293.08 L140.8,293.11 L141.8,293.14 L142.8,293.17 L143.8,293.19 L144.8,293.21 L145.8,293.23 L146.8,293.24 L147.8,293.25 L148.8,293.26 L149.8,293.27 L150.8,293.27 L151.8,293.28 L152.8,293.28 L153.8,293.29 L154.8,293.29 L155.8,293.29 L156.8,293.29 L157.8,293.29 L158.8,293.3 L159.8,293.3 L160.8,293.3 L161.8,293.3 L162.8,293.3 L163.8,293.3 L164.8,293.3 L165.8,293.3 L166.8,293.3 L167.8,293.3 L168.8,293.3 L169.8,293.3 L170.8,293.3 L171.8,293.3 L172.8,293.3 L173.8,293.3 L174.8,293.3 L175.8,293.3 L176.8,293.3 L177.8,293.3 L178.8,293.3 L179.8,293.3 L180.8,293.3 L181.8,293.3 L182.8,293.3 L183.8,293.3 L184.8,293.3 L185.8,293.3 L186.8,293.3 L187.8,293.3 L188.8,293.3 L189.8,293.3 L190.8,293.3 L191.8,293.3 L192.8,293.3 L193.8,293.3 L194.8,293.3 L195.8,293.3 L196.8,293.3 L197.6,293.3" fill="none" stroke="#f06418" stroke-width="1.1"/>
<path d="M52.8,291.3 C54,290.78 57.8,289.33 60,288.2 C62.2,287.07 64.18,285.72 66,284.5 C67.82,283.28 68.87,282.4 70.9,280.9 C72.93,279.4 76.02,277.07 78.2,275.5 C80.38,273.93 81.88,273.17 84,271.5 C86.12,269.83 88.53,267.87 90.9,265.5 C93.27,263.13 95.77,259.73 98.2,257.3 C100.63,254.87 103.08,252.27 105.5,250.9 C107.92,249.53 110.28,248.95 112.7,249.1 C115.12,249.25 117.57,250.13 120,251.8 C122.43,253.47 124.88,256.22 127.3,259.1 C129.72,261.98 132.08,266.37 134.5,269.1 C136.92,271.83 139.07,273.98 141.8,275.5 C144.53,277.02 147.87,277.45 150.9,278.2 C153.93,278.95 156.82,279.03 160,280 C163.18,280.97 166.47,282.58 170,284 C173.53,285.42 177.87,287.25 181.2,288.5 C184.53,289.75 187.27,290.75 190,291.5 C192.73,292.25 196.33,292.75 197.6,293" fill="none" stroke="#2a2a2a" stroke-width="1.2"/>
</g>
<rect x="52.8" y="29.2" width="145.5" height="265.1" fill="none" stroke="#6a6a6a" stroke-width="1.2"/>
<line x1="52.95" y1="294.3" x2="52.95" y2="297.6" stroke="#444" stroke-width="1.1"/>
<line x1="58.12" y1="294.3" x2="58.12" y2="297.6" stroke="#444" stroke-width="1.1"/>
<line x1="63.3" y1="294.3" x2="63.3" y2="299.8" stroke="#444" stroke-width="1.1"/>
<line x1="68.47" y1="294.3" x2="68.47" y2="297.6" stroke="#444" stroke-width="1.1"/>
<line x1="73.65" y1="294.3" x2="73.65" y2="297.6" stroke="#444" stroke-width="1.1"/>
<line x1="78.82" y1="294.3" x2="78.82" y2="297.6" stroke="#444" stroke-width="1.1"/>
<line x1="84" y1="294.3" x2="84" y2="297.6" stroke="#444" stroke-width="1.1"/>
<line x1="89.17" y1="294.3" x2="89.17" y2="297.6" stroke="#444" stroke-width="1.1"/>
<line x1="94.35" y1="294.3" x2="94.35" y2="297.6" stroke="#444" stroke-width="1.1"/>
<line x1="99.52" y1="294.3" x2="99.52" y2="297.6" stroke="#444" stroke-width="1.1"/>
<line x1="104.7" y1="294.3" x2="104.7" y2="299.8" stroke="#444" stroke-width="1.1"/>
<line x1="109.88" y1="294.3" x2="109.88" y2="297.6" stroke="#444" stroke-width="1.1"/>
<line x1="115.05" y1="294.3" x2="115.05" y2="297.6" stroke="#444" stroke-width="1.1"/>
<line x1="120.22" y1="294.3" x2="120.22" y2="297.6" stroke="#444" stroke-width="1.1"/>
<line x1="125.4" y1="294.3" x2="125.4" y2="297.6" stroke="#444" stroke-width="1.1"/>
<line x1="130.57" y1="294.3" x2="130.57" y2="297.6" stroke="#444" stroke-width="1.1"/>
<line x1="135.75" y1="294.3" x2="135.75" y2="297.6" stroke="#444" stroke-width="1.1"/>
<line x1="140.93" y1="294.3" x2="140.93" y2="297.6" stroke="#444" stroke-width="1.1"/>
<line x1="146.1" y1="294.3" x2="146.1" y2="299.8" stroke="#444" stroke-width="1.1"/>
<line x1="151.27" y1="294.3" x2="151.27" y2="297.6" stroke="#444" stroke-width="1.1"/>
<line x1="156.45" y1="294.3" x2="156.45" y2="297.6" stroke="#444" stroke-width="1.1"/>
<line x1="161.62" y1="294.3" x2="161.62" y2="297.6" stroke="#444" stroke-width="1.1"/>
<line x1="166.8" y1="294.3" x2="166.8" y2="297.6" stroke="#444" stroke-width="1.1"/>
<line x1="171.97" y1="294.3" x2="171.97" y2="297.6" stroke="#444" stroke-width="1.1"/>
<line x1="177.15" y1="294.3" x2="177.15" y2="297.6" stroke="#444" stroke-width="1.1"/>
<line x1="182.32" y1="294.3" x2="182.32" y2="297.6" stroke="#444" stroke-width="1.1"/>
<line x1="187.5" y1="294.3" x2="187.5" y2="299.8" stroke="#444" stroke-width="1.1"/>
<line x1="192.68" y1="294.3" x2="192.68" y2="297.6" stroke="#444" stroke-width="1.1"/>
<line x1="197.85" y1="294.3" x2="197.85" y2="297.6" stroke="#444" stroke-width="1.1"/>
<text x="63.3" y="313.2" text-anchor="middle" fill="#1a1a1a" style="font-family:'Liberation Sans';font-size:11.2px;" stroke="#1a1a1a" stroke-width="0.2">720</text>
<text x="104.7" y="313.2" text-anchor="middle" fill="#1a1a1a" style="font-family:'Liberation Sans';font-size:11.2px;" stroke="#1a1a1a" stroke-width="0.2">680</text>
<text x="146.1" y="313.2" text-anchor="middle" fill="#1a1a1a" style="font-family:'Liberation Sans';font-size:11.2px;" stroke="#1a1a1a" stroke-width="0.2">640</text>
<text x="187.5" y="313.2" text-anchor="middle" fill="#1a1a1a" style="font-family:'Liberation Sans';font-size:11.2px;" stroke="#1a1a1a" stroke-width="0.2">600</text>
<text x="125.55" y="328.4" text-anchor="middle" fill="#1a1a1a" style="font-family:'Liberation Sans';font-size:11.5px;" stroke="#1a1a1a" stroke-width="0.2">Wavelength (nm)</text>
<clipPath id="clip1"><rect x="228.4" y="29.2" width="143.1" height="261.3"/></clipPath>
<g clip-path="url(#clip1)">
<path d="M228.4,172.99 L229.4,172.98 L230.4,172.98 L231.4,172.97 L232.4,172.97 L233.4,172.96 L234.4,172.94 L235.4,172.93 L236.4,172.91 L237.4,172.89 L238.4,172.86 L239.4,172.83 L240.4,172.79 L241.4,172.74 L242.4,172.69 L243.4,172.62 L244.4,172.54 L245.4,172.44 L246.4,172.33 L247.4,172.19 L248.4,172.04 L249.4,171.86 L250.4,171.65 L251.4,171.41 L252.4,171.13 L253.4,170.82 L254.4,170.46 L255.4,170.06 L256.4,169.61 L257.4,169.11 L258.4,168.56 L259.4,167.94 L260.4,167.27 L261.4,166.53 L262.4,165.73 L263.4,164.87 L264.4,163.94 L265.4,162.95 L266.4,161.9 L267.4,160.79 L268.4,159.62 L269.4,158.41 L270.4,157.16 L271.4,155.87 L272.4,154.56 L273.4,153.23 L274.4,151.89 L275.4,150.56 L276.4,149.25 L277.4,147.97 L278.4,146.73 L279.4,145.55 L280.4,144.44 L281.4,143.41 L282.4,142.47 L283.4,141.64 L284.4,140.92 L285.4,140.32 L286.4,139.86 L287.4,139.53 L288.4,139.35 L289.4,139.3 L290.4,139.4 L291.4,139.65 L292.4,140.03 L293.4,140.55 L294.4,141.19 L295.4,141.96 L296.4,142.83 L297.4,143.81 L298.4,144.87 L299.4,146.02 L300.4,147.22 L301.4,148.48 L302.4,149.77 L303.4,151.09 L304.4,152.43 L305.4,153.76 L306.4,155.09 L307.4,156.39 L308.4,157.67 L309.4,158.9 L310.4,160.1 L311.4,161.24 L312.4,162.33 L313.4,163.35 L314.4,164.32 L315.4,165.22 L316.4,166.06 L317.4,166.83 L318.4,167.55 L319.4,168.2 L320.4,168.79 L321.4,169.32 L322.4,169.8 L323.4,170.23 L324.4,170.61 L325.4,170.95 L326.4,171.25 L327.4,171.51 L328.4,171.73 L329.4,171.93 L330.4,172.1 L331.4,172.25 L332.4,172.37 L333.4,172.48 L334.4,172.57 L335.4,172.65 L336.4,172.71 L337.4,172.76 L338.4,172.81 L339.4,172.85 L340.4,172.88 L341.4,172.9 L342.4,172.92 L343.4,172.94 L344.4,172.95 L345.4,172.96 L346.4,172.97 L347.4,172.98 L348.4,172.98 L349.4,172.99 L350.4,172.99 L351.4,172.99 L352.4,172.99 L353.4,172.99 L354.4,173 L355.4,173 L356.4,173 L357.4,173 L358.4,173 L359.4,173 L360.4,173 L361.4,173 L362.4,173 L363.4,173 L364.4,173 L365.4,173 L366.4,173 L367.4,173 L368.3,173 L368.3,173 L228.4,173 Z" fill="#94e078" stroke="none"/>
<path d="M243.4,172.62 L244.4,172.54 L245.4,172.44 L246.4,172.33 L247.4,172.19 L248.4,172.04 L249.4,171.86 L250.4,171.65 L251.4,171.41 L252.4,171.13 L253.4,170.82 L254.4,170.46 L255.4,170.06 L256.4,169.61 L257.4,169.11 L258.4,168.56 L259.4,167.94 L260.4,167.27 L261.4,166.53 L262.4,165.73 L263.4,164.87 L264.4,163.94 L265.4,162.95 L266.4,161.9 L267.4,160.79 L268.4,159.62 L269.4,158.41 L270.4,157.16 L271.4,155.87 L272.4,154.56 L273.4,153.23 L274.4,151.89 L275.4,150.56 L276.4,149.25 L277.4,147.97 L278.4,146.73 L279.4,145.55 L280.4,144.44 L281.4,143.41 L282.4,142.47 L283.4,141.64 L284.4,140.92 L285.4,140.32 L286.4,139.86 L287.4,139.53 L288.4,139.35 L289.4,139.3 L290.4,139.4 L291.4,139.65 L292.4,140.03 L293.4,140.55 L294.4,141.19 L295.4,141.96 L296.4,142.83 L297.4,143.81 L298.4,144.87 L299.4,146.02 L300.4,147.22 L301.4,148.48 L302.4,149.77 L303.4,151.09 L304.4,152.43 L305.4,153.76 L306.4,155.09 L307.4,156.39 L308.4,157.67 L309.4,158.9 L310.4,160.1 L311.4,161.24 L312.4,162.33 L313.4,163.35 L314.4,164.32 L315.4,165.22 L316.4,166.06 L317.4,166.83 L318.4,167.55 L319.4,168.2 L320.4,168.79 L321.4,169.32 L322.4,169.8 L323.4,170.23 L324.4,170.61 L325.4,170.95 L326.4,171.25 L327.4,171.51 L328.4,171.73 L329.4,171.93 L330.4,172.1 L331.4,172.25 L332.4,172.37 L333.4,172.48 L334.4,172.57 L335.4,172.65" fill="none" stroke="#3ccc1c" stroke-width="1.1"/>
<path d="M228.4,173 L229.4,173 L230.4,173 L231.4,173 L232.4,173 L233.4,173 L234.4,173 L235.4,173 L236.4,173 L237.4,173 L238.4,173 L239.4,173 L240.4,173 L241.4,173 L242.4,173 L243.4,173 L244.4,173 L245.4,173 L246.4,173 L247.4,173 L248.4,173 L249.4,173 L250.4,173 L251.4,173 L252.4,173 L253.4,173 L254.4,173 L255.4,173 L256.4,173 L257.4,173 L258.4,173 L259.4,173 L260.4,173 L261.4,173 L262.4,173 L263.4,173 L264.4,173 L265.4,173 L266.4,173 L267.4,173 L268.4,173 L269.4,173 L270.4,172.99 L271.4,172.99 L272.4,172.99 L273.4,172.99 L274.4,172.98 L275.4,172.98 L276.4,172.97 L277.4,172.97 L278.4,172.96 L279.4,172.95 L280.4,172.94 L281.4,172.92 L282.4,172.9 L283.4,172.88 L284.4,172.86 L285.4,172.83 L286.4,172.79 L287.4,172.75 L288.4,172.7 L289.4,172.64 L290.4,172.57 L291.4,172.49 L292.4,172.4 L293.4,172.3 L294.4,172.18 L295.4,172.04 L296.4,171.89 L297.4,171.73 L298.4,171.54 L299.4,171.33 L300.4,171.1 L301.4,170.85 L302.4,170.58 L303.4,170.28 L304.4,169.96 L305.4,169.62 L306.4,169.26 L307.4,168.88 L308.4,168.48 L309.4,168.06 L310.4,167.63 L311.4,167.18 L312.4,166.73 L313.4,166.27 L314.4,165.81 L315.4,165.35 L316.4,164.9 L317.4,164.46 L318.4,164.04 L319.4,163.63 L320.4,163.25 L321.4,162.91 L322.4,162.59 L323.4,162.32 L324.4,162.08 L325.4,161.89 L326.4,161.74 L327.4,161.65 L328.4,161.6 L329.4,161.61 L330.4,161.66 L331.4,161.77 L332.4,161.92 L333.4,162.12 L334.4,162.37 L335.4,162.65 L336.4,162.97 L337.4,163.33 L338.4,163.71 L339.4,164.12 L340.4,164.55 L341.4,164.99 L342.4,165.44 L343.4,165.9 L344.4,166.36 L345.4,166.82 L346.4,167.27 L347.4,167.72 L348.4,168.15 L349.4,168.56 L350.4,168.96 L351.4,169.34 L352.4,169.69 L353.4,170.03 L354.4,170.34 L355.4,170.63 L356.4,170.9 L357.4,171.15 L358.4,171.37 L359.4,171.58 L360.4,171.76 L361.4,171.93 L362.4,172.07 L363.4,172.2 L364.4,172.32 L365.4,172.42 L366.4,172.51 L367.4,172.58 L368.3,172.64 L368.3,173 L228.4,173 Z" fill="#fad4e3" stroke="none"/>
<path d="M289.4,172.64 L290.4,172.57 L291.4,172.49 L292.4,172.4 L293.4,172.3 L294.4,172.18 L295.4,172.04 L296.4,171.89 L297.4,171.73 L298.4,171.54 L299.4,171.33 L300.4,171.1 L301.4,170.85 L302.4,170.58 L303.4,170.28 L304.4,169.96 L305.4,169.62 L306.4,169.26 L307.4,168.88 L308.4,168.48 L309.4,168.06 L310.4,167.63 L311.4,167.18 L312.4,166.73 L313.4,166.27 L314.4,165.81 L315.4,165.35 L316.4,164.9 L317.4,164.46 L318.4,164.04 L319.4,163.63 L320.4,163.25 L321.4,162.91 L322.4,162.59 L323.4,162.32 L324.4,162.08 L325.4,161.89 L326.4,161.74 L327.4,161.65 L328.4,161.6 L329.4,161.61 L330.4,161.66 L331.4,161.77 L332.4,161.92 L333.4,162.12 L334.4,162.37 L335.4,162.65 L336.4,162.97 L337.4,163.33 L338.4,163.71 L339.4,164.12 L340.4,164.55 L341.4,164.99 L342.4,165.44 L343.4,165.9 L344.4,166.36 L345.4,166.82 L346.4,167.27 L347.4,167.72 L348.4,168.15 L349.4,168.56 L350.4,168.96 L351.4,169.34 L352.4,169.69 L353.4,170.03 L354.4,170.34 L355.4,170.63 L356.4,170.9 L357.4,171.15 L358.4,171.37 L359.4,171.58 L360.4,171.76 L361.4,171.93 L362.4,172.07 L363.4,172.2 L364.4,172.32 L365.4,172.42 L366.4,172.51 L367.4,172.58 L368.3,172.64" fill="none" stroke="#efb4cf" stroke-width="1.1"/>
<path d="M228.4,172.27 L229.4,172.14 L230.4,171.99 L231.4,171.81 L232.4,171.62 L233.4,171.4 L234.4,171.16 L235.4,170.89 L236.4,170.59 L237.4,170.26 L238.4,169.9 L239.4,169.51 L240.4,169.08 L241.4,168.63 L242.4,168.14 L243.4,167.62 L244.4,167.08 L245.4,166.51 L246.4,165.92 L247.4,165.31 L248.4,164.68 L249.4,164.05 L250.4,163.41 L251.4,162.77 L252.4,162.14 L253.4,161.53 L254.4,160.93 L255.4,160.36 L256.4,159.82 L257.4,159.33 L258.4,158.88 L259.4,158.48 L260.4,158.14 L261.4,157.85 L262.4,157.64 L263.4,157.49 L264.4,157.41 L265.4,157.41 L266.4,157.47 L267.4,157.6 L268.4,157.81 L269.4,158.07 L270.4,158.4 L271.4,158.79 L272.4,159.23 L273.4,159.72 L274.4,160.25 L275.4,160.81 L276.4,161.4 L277.4,162.02 L278.4,162.65 L279.4,163.28 L280.4,163.92 L281.4,164.56 L282.4,165.18 L283.4,165.8 L284.4,166.39 L285.4,166.97 L286.4,167.52 L287.4,168.04 L288.4,168.53 L289.4,168.99 L290.4,169.42 L291.4,169.82 L292.4,170.19 L293.4,170.53 L294.4,170.83 L295.4,171.11 L296.4,171.36 L297.4,171.58 L298.4,171.78 L299.4,171.95 L300.4,172.11 L301.4,172.24 L302.4,172.36 L303.4,172.46 L304.4,172.55 L305.4,172.62 L306.4,172.69 L307.4,172.74 L308.4,172.79 L309.4,172.83 L310.4,172.86 L311.4,172.89 L312.4,172.91 L313.4,172.93 L314.4,172.94 L315.4,172.95 L316.4,172.96 L317.4,172.97 L318.4,172.98 L319.4,172.98 L320.4,172.99 L321.4,172.99 L322.4,172.99 L323.4,172.99 L324.4,173 L325.4,173 L326.4,173 L327.4,173 L328.4,173 L329.4,173 L330.4,173 L331.4,173 L332.4,173 L333.4,173 L334.4,173 L335.4,173 L336.4,173 L337.4,173 L338.4,173 L339.4,173 L340.4,173 L341.4,173 L342.4,173 L343.4,173 L344.4,173 L345.4,173 L346.4,173 L347.4,173 L348.4,173 L349.4,173 L350.4,173 L351.4,173 L352.4,173 L353.4,173 L354.4,173 L355.4,173 L356.4,173 L357.4,173 L358.4,173 L359.4,173 L360.4,173 L361.4,173 L362.4,173 L363.4,173 L364.4,173 L365.4,173 L366.4,173 L367.4,173 L368.3,173 L368.3,173 L228.4,173 Z" fill="#fbab80" stroke="none"/>
<path d="M228.4,172.27 L229.4,172.14 L230.4,171.99 L231.4,171.81 L232.4,171.62 L233.4,171.4 L234.4,171.16 L235.4,170.89 L236.4,170.59 L237.4,170.26 L238.4,169.9 L239.4,169.51 L240.4,169.08 L241.4,168.63 L242.4,168.14 L243.4,167.62 L244.4,167.08 L245.4,166.51 L246.4,165.92 L247.4,165.31 L248.4,164.68 L249.4,164.05 L250.4,163.41 L251.4,162.77 L252.4,162.14 L253.4,161.53 L254.4,160.93 L255.4,160.36 L256.4,159.82 L257.4,159.33 L258.4,158.88 L259.4,158.48 L260.4,158.14 L261.4,157.85 L262.4,157.64 L263.4,157.49 L264.4,157.41 L265.4,157.41 L266.4,157.47 L267.4,157.6 L268.4,157.81 L269.4,158.07 L270.4,158.4 L271.4,158.79 L272.4,159.23 L273.4,159.72 L274.4,160.25 L275.4,160.81 L276.4,161.4 L277.4,162.02 L278.4,162.65 L279.4,163.28 L280.4,163.92 L281.4,164.56 L282.4,165.18 L283.4,165.8 L284.4,166.39 L285.4,166.97 L286.4,167.52 L287.4,168.04 L288.4,168.53 L289.4,168.99 L290.4,169.42 L291.4,169.82 L292.4,170.19 L293.4,170.53 L294.4,170.83 L295.4,171.11 L296.4,171.36 L297.4,171.58 L298.4,171.78 L299.4,171.95 L300.4,172.11 L301.4,172.24 L302.4,172.36 L303.4,172.46 L304.4,172.55 L305.4,172.62 L306.4,172.69 L307.4,172.74 L308.4,172.79 L309.4,172.83 L310.4,172.86 L311.4,172.89 L312.4,172.91 L313.4,172.93 L314.4,172.94 L315.4,172.95 L316.4,172.96 L317.4,172.97 L318.4,172.98 L319.4,172.98 L320.4,172.99 L321.4,172.99 L322.4,172.99 L323.4,172.99 L324.4,173 L325.4,173 L326.4,173 L327.4,173 L328.4,173 L329.4,173 L330.4,173 L331.4,173 L332.4,173 L333.4,173 L334.4,173 L335.4,173 L336.4,173 L337.4,173 L338.4,173 L339.4,173 L340.4,173 L341.4,173 L342.4,173 L343.4,173 L344.4,173 L345.4,173 L346.4,173 L347.4,173 L348.4,173 L349.4,173 L350.4,173 L351.4,173 L352.4,173 L353.4,173 L354.4,173 L355.4,173 L356.4,173 L357.4,173 L358.4,173 L359.4,173 L360.4,173 L361.4,173 L362.4,173 L363.4,173 L364.4,173 L365.4,173 L366.4,173 L367.4,173 L368.3,173" fill="none" stroke="#f06418" stroke-width="1.1"/>
<path d="M228.4,172 C229.5,171.67 232.9,170.73 235,170 C237.1,169.27 239.38,168.33 241,167.6 C242.62,166.87 243.2,166.73 244.7,165.6 C246.2,164.47 248.15,162.62 250,160.8 C251.85,158.98 254.13,156.58 255.8,154.7 C257.47,152.82 258.52,151.2 260,149.5 C261.48,147.8 262.63,146.42 264.7,144.5 C266.77,142.58 270.35,139.53 272.4,138 C274.45,136.47 274.9,136.38 277,135.3 C279.1,134.22 282.5,131.88 285,131.5 C287.5,131.12 289.92,131.7 292,133 C294.08,134.3 295.07,136.07 297.5,139.3 C299.93,142.53 303.35,149.35 306.6,152.4 C309.85,155.45 312.65,156.3 317,157.6 C321.35,158.9 327.45,159.1 332.7,160.2 C337.95,161.3 342.57,162.18 348.5,164.2 C354.43,166.22 365,170.95 368.3,172.3" fill="none" stroke="#2a2a2a" stroke-width="1.2"/>
<path d="M228.4,230.65 L229.4,230.64 L230.4,230.63 L231.4,230.61 L232.4,230.59 L233.4,230.57 L234.4,230.54 L235.4,230.5 L236.4,230.46 L237.4,230.41 L238.4,230.35 L239.4,230.28 L240.4,230.19 L241.4,230.09 L242.4,229.98 L243.4,229.84 L244.4,229.69 L245.4,229.51 L246.4,229.31 L247.4,229.07 L248.4,228.81 L249.4,228.5 L250.4,228.16 L251.4,227.78 L252.4,227.35 L253.4,226.87 L254.4,226.34 L255.4,225.76 L256.4,225.11 L257.4,224.41 L258.4,223.64 L259.4,222.81 L260.4,221.92 L261.4,220.95 L262.4,219.92 L263.4,218.83 L264.4,217.68 L265.4,216.46 L266.4,215.19 L267.4,213.86 L268.4,212.49 L269.4,211.08 L270.4,209.64 L271.4,208.18 L272.4,206.7 L273.4,205.22 L274.4,203.75 L275.4,202.29 L276.4,200.87 L277.4,199.49 L278.4,198.17 L279.4,196.92 L280.4,195.74 L281.4,194.66 L282.4,193.68 L283.4,192.81 L284.4,192.07 L285.4,191.45 L286.4,190.98 L287.4,190.64 L288.4,190.45 L289.4,190.4 L290.4,190.51 L291.4,190.76 L292.4,191.15 L293.4,191.68 L294.4,192.35 L295.4,193.15 L296.4,194.06 L297.4,195.08 L298.4,196.2 L299.4,197.41 L300.4,198.69 L301.4,200.04 L302.4,201.44 L303.4,202.87 L304.4,204.34 L305.4,205.81 L306.4,207.29 L307.4,208.77 L308.4,210.22 L309.4,211.65 L310.4,213.05 L311.4,214.4 L312.4,215.7 L313.4,216.95 L314.4,218.15 L315.4,219.28 L316.4,220.34 L317.4,221.35 L318.4,222.28 L319.4,223.15 L320.4,223.96 L321.4,224.7 L322.4,225.38 L323.4,226 L324.4,226.56 L325.4,227.07 L326.4,227.53 L327.4,227.94 L328.4,228.3 L329.4,228.63 L330.4,228.92 L331.4,229.17 L332.4,229.39 L333.4,229.59 L334.4,229.75 L335.4,229.9 L336.4,230.03 L337.4,230.13 L338.4,230.23 L339.4,230.31 L340.4,230.37 L341.4,230.43 L342.4,230.48 L343.4,230.52 L344.4,230.55 L345.4,230.58 L346.4,230.6 L347.4,230.62 L348.4,230.64 L349.4,230.65 L350.4,230.66 L351.4,230.67 L352.4,230.67 L353.4,230.68 L354.4,230.68 L355.4,230.69 L356.4,230.69 L357.4,230.69 L358.4,230.69 L359.4,230.7 L360.4,230.7 L361.4,230.7 L362.4,230.7 L363.4,230.7 L364.4,230.7 L365.4,230.7 L366.4,230.7 L367.4,230.7 L368,230.7 L368,230.7 L228.4,230.7 Z" fill="#94e078" stroke="none"/>
<path d="M238.4,230.35 L239.4,230.28 L240.4,230.19 L241.4,230.09 L242.4,229.98 L243.4,229.84 L244.4,229.69 L245.4,229.51 L246.4,229.31 L247.4,229.07 L248.4,228.81 L249.4,228.5 L250.4,228.16 L251.4,227.78 L252.4,227.35 L253.4,226.87 L254.4,226.34 L255.4,225.76 L256.4,225.11 L257.4,224.41 L258.4,223.64 L259.4,222.81 L260.4,221.92 L261.4,220.95 L262.4,219.92 L263.4,218.83 L264.4,217.68 L265.4,216.46 L266.4,215.19 L267.4,213.86 L268.4,212.49 L269.4,211.08 L270.4,209.64 L271.4,208.18 L272.4,206.7 L273.4,205.22 L274.4,203.75 L275.4,202.29 L276.4,200.87 L277.4,199.49 L278.4,198.17 L279.4,196.92 L280.4,195.74 L281.4,194.66 L282.4,193.68 L283.4,192.81 L284.4,192.07 L285.4,191.45 L286.4,190.98 L287.4,190.64 L288.4,190.45 L289.4,190.4 L290.4,190.51 L291.4,190.76 L292.4,191.15 L293.4,191.68 L294.4,192.35 L295.4,193.15 L296.4,194.06 L297.4,195.08 L298.4,196.2 L299.4,197.41 L300.4,198.69 L301.4,200.04 L302.4,201.44 L303.4,202.87 L304.4,204.34 L305.4,205.81 L306.4,207.29 L307.4,208.77 L308.4,210.22 L309.4,211.65 L310.4,213.05 L311.4,214.4 L312.4,215.7 L313.4,216.95 L314.4,218.15 L315.4,219.28 L316.4,220.34 L317.4,221.35 L318.4,222.28 L319.4,223.15 L320.4,223.96 L321.4,224.7 L322.4,225.38 L323.4,226 L324.4,226.56 L325.4,227.07 L326.4,227.53 L327.4,227.94 L328.4,228.3 L329.4,228.63 L330.4,228.92 L331.4,229.17 L332.4,229.39 L333.4,229.59 L334.4,229.75 L335.4,229.9 L336.4,230.03 L337.4,230.13 L338.4,230.23 L339.4,230.31" fill="none" stroke="#3ccc1c" stroke-width="1.1"/>
<path d="M228.4,230.7 L229.4,230.7 L230.4,230.7 L231.4,230.7 L232.4,230.7 L233.4,230.7 L234.4,230.7 L235.4,230.7 L236.4,230.7 L237.4,230.7 L238.4,230.7 L239.4,230.7 L240.4,230.7 L241.4,230.7 L242.4,230.7 L243.4,230.7 L244.4,230.7 L245.4,230.7 L246.4,230.7 L247.4,230.7 L248.4,230.7 L249.4,230.7 L250.4,230.7 L251.4,230.7 L252.4,230.7 L253.4,230.7 L254.4,230.7 L255.4,230.7 L256.4,230.7 L257.4,230.7 L258.4,230.7 L259.4,230.7 L260.4,230.7 L261.4,230.7 L262.4,230.7 L263.4,230.7 L264.4,230.7 L265.4,230.7 L266.4,230.7 L267.4,230.7 L268.4,230.7 L269.4,230.7 L270.4,230.7 L271.4,230.69 L272.4,230.69 L273.4,230.69 L274.4,230.69 L275.4,230.68 L276.4,230.68 L277.4,230.67 L278.4,230.67 L279.4,230.66 L280.4,230.65 L281.4,230.63 L282.4,230.62 L283.4,230.6 L284.4,230.57 L285.4,230.55 L286.4,230.51 L287.4,230.47 L288.4,230.43 L289.4,230.37 L290.4,230.31 L291.4,230.23 L292.4,230.14 L293.4,230.04 L294.4,229.93 L295.4,229.8 L296.4,229.65 L297.4,229.48 L298.4,229.3 L299.4,229.09 L300.4,228.86 L301.4,228.6 L302.4,228.32 L303.4,228.01 L304.4,227.68 L305.4,227.32 L306.4,226.94 L307.4,226.53 L308.4,226.1 L309.4,225.64 L310.4,225.17 L311.4,224.68 L312.4,224.17 L313.4,223.65 L314.4,223.12 L315.4,222.6 L316.4,222.07 L317.4,221.55 L318.4,221.04 L319.4,220.54 L320.4,220.07 L321.4,219.63 L322.4,219.22 L323.4,218.84 L324.4,218.51 L325.4,218.23 L326.4,217.99 L327.4,217.81 L328.4,217.68 L329.4,217.61 L330.4,217.6 L331.4,217.65 L332.4,217.75 L333.4,217.91 L334.4,218.13 L335.4,218.39 L336.4,218.71 L337.4,219.06 L338.4,219.46 L339.4,219.89 L340.4,220.35 L341.4,220.84 L342.4,221.34 L343.4,221.86 L344.4,222.38 L345.4,222.91 L346.4,223.44 L347.4,223.96 L348.4,224.48 L349.4,224.97 L350.4,225.46 L351.4,225.92 L352.4,226.36 L353.4,226.78 L354.4,227.17 L355.4,227.54 L356.4,227.88 L357.4,228.2 L358.4,228.49 L359.4,228.76 L360.4,229 L361.4,229.21 L362.4,229.41 L363.4,229.59 L364.4,229.74 L365.4,229.88 L366.4,230 L367.4,230.1 L368,230.16 L368,230.7 L228.4,230.7 Z" fill="#fad4e3" stroke="none"/>
<path d="M290.4,230.31 L291.4,230.23 L292.4,230.14 L293.4,230.04 L294.4,229.93 L295.4,229.8 L296.4,229.65 L297.4,229.48 L298.4,229.3 L299.4,229.09 L300.4,228.86 L301.4,228.6 L302.4,228.32 L303.4,228.01 L304.4,227.68 L305.4,227.32 L306.4,226.94 L307.4,226.53 L308.4,226.1 L309.4,225.64 L310.4,225.17 L311.4,224.68 L312.4,224.17 L313.4,223.65 L314.4,223.12 L315.4,222.6 L316.4,222.07 L317.4,221.55 L318.4,221.04 L319.4,220.54 L320.4,220.07 L321.4,219.63 L322.4,219.22 L323.4,218.84 L324.4,218.51 L325.4,218.23 L326.4,217.99 L327.4,217.81 L328.4,217.68 L329.4,217.61 L330.4,217.6 L331.4,217.65 L332.4,217.75 L333.4,217.91 L334.4,218.13 L335.4,218.39 L336.4,218.71 L337.4,219.06 L338.4,219.46 L339.4,219.89 L340.4,220.35 L341.4,220.84 L342.4,221.34 L343.4,221.86 L344.4,222.38 L345.4,222.91 L346.4,223.44 L347.4,223.96 L348.4,224.48 L349.4,224.97 L350.4,225.46 L351.4,225.92 L352.4,226.36 L353.4,226.78 L354.4,227.17 L355.4,227.54 L356.4,227.88 L357.4,228.2 L358.4,228.49 L359.4,228.76 L360.4,229 L361.4,229.21 L362.4,229.41 L363.4,229.59 L364.4,229.74 L365.4,229.88 L366.4,230 L367.4,230.1 L368,230.16" fill="none" stroke="#efb4cf" stroke-width="1.1"/>
<path d="M228.4,228.95 L229.4,228.69 L230.4,228.4 L231.4,228.08 L232.4,227.73 L233.4,227.34 L234.4,226.92 L235.4,226.46 L236.4,225.97 L237.4,225.44 L238.4,224.88 L239.4,224.29 L240.4,223.66 L241.4,223 L242.4,222.32 L243.4,221.62 L244.4,220.9 L245.4,220.16 L246.4,219.41 L247.4,218.67 L248.4,217.92 L249.4,217.19 L250.4,216.48 L251.4,215.78 L252.4,215.12 L253.4,214.5 L254.4,213.93 L255.4,213.4 L256.4,212.93 L257.4,212.53 L258.4,212.2 L259.4,211.93 L260.4,211.74 L261.4,211.63 L262.4,211.6 L263.4,211.65 L264.4,211.77 L265.4,211.98 L266.4,212.26 L267.4,212.61 L268.4,213.02 L269.4,213.5 L270.4,214.04 L271.4,214.62 L272.4,215.25 L273.4,215.92 L274.4,216.62 L275.4,217.34 L276.4,218.07 L277.4,218.82 L278.4,219.56 L279.4,220.31 L280.4,221.04 L281.4,221.76 L282.4,222.46 L283.4,223.14 L284.4,223.79 L285.4,224.41 L286.4,225 L287.4,225.55 L288.4,226.07 L289.4,226.56 L290.4,227.01 L291.4,227.42 L292.4,227.8 L293.4,228.15 L294.4,228.46 L295.4,228.75 L296.4,229 L297.4,229.23 L298.4,229.43 L299.4,229.61 L300.4,229.77 L301.4,229.91 L302.4,230.03 L303.4,230.13 L304.4,230.22 L305.4,230.3 L306.4,230.37 L307.4,230.42 L308.4,230.47 L309.4,230.51 L310.4,230.55 L311.4,230.57 L312.4,230.6 L313.4,230.62 L314.4,230.63 L315.4,230.65 L316.4,230.66 L317.4,230.67 L318.4,230.67 L319.4,230.68 L320.4,230.68 L321.4,230.69 L322.4,230.69 L323.4,230.69 L324.4,230.69 L325.4,230.7 L326.4,230.7 L327.4,230.7 L328.4,230.7 L329.4,230.7 L330.4,230.7 L331.4,230.7 L332.4,230.7 L333.4,230.7 L334.4,230.7 L335.4,230.7 L336.4,230.7 L337.4,230.7 L338.4,230.7 L339.4,230.7 L340.4,230.7 L341.4,230.7 L342.4,230.7 L343.4,230.7 L344.4,230.7 L345.4,230.7 L346.4,230.7 L347.4,230.7 L348.4,230.7 L349.4,230.7 L350.4,230.7 L351.4,230.7 L352.4,230.7 L353.4,230.7 L354.4,230.7 L355.4,230.7 L356.4,230.7 L357.4,230.7 L358.4,230.7 L359.4,230.7 L360.4,230.7 L361.4,230.7 L362.4,230.7 L363.4,230.7 L364.4,230.7 L365.4,230.7 L366.4,230.7 L367.4,230.7 L368,230.7 L368,230.7 L228.4,230.7 Z" fill="#fbab80" stroke="none"/>
<path d="M228.4,228.95 L229.4,228.69 L230.4,228.4 L231.4,228.08 L232.4,227.73 L233.4,227.34 L234.4,226.92 L235.4,226.46 L236.4,225.97 L237.4,225.44 L238.4,224.88 L239.4,224.29 L240.4,223.66 L241.4,223 L242.4,222.32 L243.4,221.62 L244.4,220.9 L245.4,220.16 L246.4,219.41 L247.4,218.67 L248.4,217.92 L249.4,217.19 L250.4,216.48 L251.4,215.78 L252.4,215.12 L253.4,214.5 L254.4,213.93 L255.4,213.4 L256.4,212.93 L257.4,212.53 L258.4,212.2 L259.4,211.93 L260.4,211.74 L261.4,211.63 L262.4,211.6 L263.4,211.65 L264.4,211.77 L265.4,211.98 L266.4,212.26 L267.4,212.61 L268.4,213.02 L269.4,213.5 L270.4,214.04 L271.4,214.62 L272.4,215.25 L273.4,215.92 L274.4,216.62 L275.4,217.34 L276.4,218.07 L277.4,218.82 L278.4,219.56 L279.4,220.31 L280.4,221.04 L281.4,221.76 L282.4,222.46 L283.4,223.14 L284.4,223.79 L285.4,224.41 L286.4,225 L287.4,225.55 L288.4,226.07 L289.4,226.56 L290.4,227.01 L291.4,227.42 L292.4,227.8 L293.4,228.15 L294.4,228.46 L295.4,228.75 L296.4,229 L297.4,229.23 L298.4,229.43 L299.4,229.61 L300.4,229.77 L301.4,229.91 L302.4,230.03 L303.4,230.13 L304.4,230.22 L305.4,230.3 L306.4,230.37 L307.4,230.42 L308.4,230.47 L309.4,230.51 L310.4,230.55 L311.4,230.57 L312.4,230.6 L313.4,230.62 L314.4,230.63 L315.4,230.65 L316.4,230.66 L317.4,230.67 L318.4,230.67 L319.4,230.68 L320.4,230.68 L321.4,230.69 L322.4,230.69 L323.4,230.69 L324.4,230.69 L325.4,230.7 L326.4,230.7 L327.4,230.7 L328.4,230.7 L329.4,230.7 L330.4,230.7 L331.4,230.7 L332.4,230.7 L333.4,230.7 L334.4,230.7 L335.4,230.7 L336.4,230.7 L337.4,230.7 L338.4,230.7 L339.4,230.7 L340.4,230.7 L341.4,230.7 L342.4,230.7 L343.4,230.7 L344.4,230.7 L345.4,230.7 L346.4,230.7 L347.4,230.7 L348.4,230.7 L349.4,230.7 L350.4,230.7 L351.4,230.7 L352.4,230.7 L353.4,230.7 L354.4,230.7 L355.4,230.7 L356.4,230.7 L357.4,230.7 L358.4,230.7 L359.4,230.7 L360.4,230.7 L361.4,230.7 L362.4,230.7 L363.4,230.7 L364.4,230.7 L365.4,230.7 L366.4,230.7 L367.4,230.7 L368,230.7" fill="none" stroke="#f06418" stroke-width="1.1"/>
<path d="M228.4,229.1 C230.95,227.8 239.27,224.97 243.7,221.3 C248.13,217.63 251.42,211.4 255,207.1 C258.58,202.8 262.05,198.77 265.2,195.5 C268.35,192.23 271.27,189.37 273.9,187.5 C276.53,185.63 278.57,184.87 281,184.3 C283.43,183.73 286.28,183.57 288.5,184.1 C290.72,184.63 291.88,185.37 294.3,187.5 C296.72,189.63 300.33,193.88 303,196.9 C305.67,199.92 308.12,203.42 310.3,205.6 C312.48,207.78 313.92,208.78 316.1,210 C318.28,211.22 320.25,211.93 323.4,212.9 C326.55,213.87 331.4,214.78 335,215.8 C338.6,216.82 341.88,217.72 345,219 C348.12,220.28 349.87,221.67 353.7,223.5 C357.53,225.33 365.62,228.92 368,230" fill="none" stroke="#2a2a2a" stroke-width="1.2"/>
<path d="M228.4,289.5 L229.4,289.5 L230.4,289.5 L231.4,289.5 L232.4,289.5 L233.4,289.5 L234.4,289.5 L235.4,289.5 L236.4,289.49 L237.4,289.49 L238.4,289.49 L239.4,289.49 L240.4,289.48 L241.4,289.48 L242.4,289.47 L243.4,289.46 L244.4,289.45 L245.4,289.43 L246.4,289.42 L247.4,289.39 L248.4,289.36 L249.4,289.32 L250.4,289.28 L251.4,289.22 L252.4,289.15 L253.4,289.06 L254.4,288.96 L255.4,288.83 L256.4,288.68 L257.4,288.5 L258.4,288.28 L259.4,288.02 L260.4,287.72 L261.4,287.37 L262.4,286.96 L263.4,286.49 L264.4,285.95 L265.4,285.33 L266.4,284.63 L267.4,283.83 L268.4,282.94 L269.4,281.94 L270.4,280.84 L271.4,279.62 L272.4,278.29 L273.4,276.84 L274.4,275.27 L275.4,273.58 L276.4,271.78 L277.4,269.87 L278.4,267.87 L279.4,265.77 L280.4,263.6 L281.4,261.37 L282.4,259.09 L283.4,256.8 L284.4,254.5 L285.4,252.22 L286.4,249.98 L287.4,247.82 L288.4,245.75 L289.4,243.8 L290.4,242 L291.4,240.37 L292.4,238.94 L293.4,237.71 L294.4,236.71 L295.4,235.96 L296.4,235.46 L297.4,235.22 L298.4,235.25 L299.4,235.54 L300.4,236.09 L301.4,236.89 L302.4,237.94 L303.4,239.21 L304.4,240.69 L305.4,242.35 L306.4,244.18 L307.4,246.16 L308.4,248.24 L309.4,250.42 L310.4,252.67 L311.4,254.95 L312.4,257.26 L313.4,259.55 L314.4,261.82 L315.4,264.04 L316.4,266.2 L317.4,268.27 L318.4,270.26 L319.4,272.15 L320.4,273.93 L321.4,275.59 L322.4,277.14 L323.4,278.56 L324.4,279.87 L325.4,281.07 L326.4,282.15 L327.4,283.13 L328.4,284 L329.4,284.77 L330.4,285.46 L331.4,286.06 L332.4,286.59 L333.4,287.05 L334.4,287.45 L335.4,287.79 L336.4,288.08 L337.4,288.33 L338.4,288.54 L339.4,288.71 L340.4,288.86 L341.4,288.98 L342.4,289.08 L343.4,289.16 L344.4,289.23 L345.4,289.29 L346.4,289.33 L347.4,289.37 L348.4,289.4 L349.4,289.42 L350.4,289.44 L351.4,289.45 L352.4,289.46 L353.4,289.47 L354.4,289.48 L355.4,289.48 L356.4,289.49 L357.4,289.49 L358.4,289.49 L359.4,289.49 L360.4,289.5 L361.4,289.5 L362.4,289.5 L363.4,289.5 L364.4,289.5 L365.4,289.5 L366.4,289.5 L367.4,289.5 L368.4,289.5 L369.4,289.5 L370.4,289.5 L371.3,289.5 L371.3,289.5 L228.4,289.5 Z" fill="#94e078" stroke="none"/>
<path d="M252.4,289.15 L253.4,289.06 L254.4,288.96 L255.4,288.83 L256.4,288.68 L257.4,288.5 L258.4,288.28 L259.4,288.02 L260.4,287.72 L261.4,287.37 L262.4,286.96 L263.4,286.49 L264.4,285.95 L265.4,285.33 L266.4,284.63 L267.4,283.83 L268.4,282.94 L269.4,281.94 L270.4,280.84 L271.4,279.62 L272.4,278.29 L273.4,276.84 L274.4,275.27 L275.4,273.58 L276.4,271.78 L277.4,269.87 L278.4,267.87 L279.4,265.77 L280.4,263.6 L281.4,261.37 L282.4,259.09 L283.4,256.8 L284.4,254.5 L285.4,252.22 L286.4,249.98 L287.4,247.82 L288.4,245.75 L289.4,243.8 L290.4,242 L291.4,240.37 L292.4,238.94 L293.4,237.71 L294.4,236.71 L295.4,235.96 L296.4,235.46 L297.4,235.22 L298.4,235.25 L299.4,235.54 L300.4,236.09 L301.4,236.89 L302.4,237.94 L303.4,239.21 L304.4,240.69 L305.4,242.35 L306.4,244.18 L307.4,246.16 L308.4,248.24 L309.4,250.42 L310.4,252.67 L311.4,254.95 L312.4,257.26 L313.4,259.55 L314.4,261.82 L315.4,264.04 L316.4,266.2 L317.4,268.27 L318.4,270.26 L319.4,272.15 L320.4,273.93 L321.4,275.59 L322.4,277.14 L323.4,278.56 L324.4,279.87 L325.4,281.07 L326.4,282.15 L327.4,283.13 L328.4,284 L329.4,284.77 L330.4,285.46 L331.4,286.06 L332.4,286.59 L333.4,287.05 L334.4,287.45 L335.4,287.79 L336.4,288.08 L337.4,288.33 L338.4,288.54 L339.4,288.71 L340.4,288.86 L341.4,288.98 L342.4,289.08" fill="none" stroke="#3ccc1c" stroke-width="1.1"/>
<path d="M228.4,289.5 L229.4,289.5 L230.4,289.5 L231.4,289.5 L232.4,289.5 L233.4,289.5 L234.4,289.5 L235.4,289.5 L236.4,289.5 L237.4,289.5 L238.4,289.5 L239.4,289.5 L240.4,289.5 L241.4,289.5 L242.4,289.5 L243.4,289.5 L244.4,289.5 L245.4,289.5 L246.4,289.5 L247.4,289.5 L248.4,289.5 L249.4,289.5 L250.4,289.5 L251.4,289.5 L252.4,289.5 L253.4,289.5 L254.4,289.5 L255.4,289.5 L256.4,289.5 L257.4,289.5 L258.4,289.5 L259.4,289.5 L260.4,289.5 L261.4,289.5 L262.4,289.5 L263.4,289.5 L264.4,289.5 L265.4,289.5 L266.4,289.5 L267.4,289.5 L268.4,289.5 L269.4,289.5 L270.4,289.5 L271.4,289.5 L272.4,289.5 L273.4,289.5 L274.4,289.5 L275.4,289.5 L276.4,289.5 L277.4,289.5 L278.4,289.5 L279.4,289.5 L280.4,289.5 L281.4,289.5 L282.4,289.49 L283.4,289.49 L284.4,289.49 L285.4,289.49 L286.4,289.48 L287.4,289.48 L288.4,289.48 L289.4,289.47 L290.4,289.46 L291.4,289.45 L292.4,289.44 L293.4,289.42 L294.4,289.41 L295.4,289.39 L296.4,289.36 L297.4,289.33 L298.4,289.3 L299.4,289.26 L300.4,289.21 L301.4,289.15 L302.4,289.09 L303.4,289.01 L304.4,288.92 L305.4,288.82 L306.4,288.71 L307.4,288.58 L308.4,288.44 L309.4,288.28 L310.4,288.1 L311.4,287.91 L312.4,287.69 L313.4,287.45 L314.4,287.19 L315.4,286.92 L316.4,286.62 L317.4,286.29 L318.4,285.95 L319.4,285.6 L320.4,285.22 L321.4,284.83 L322.4,284.42 L323.4,284.01 L324.4,283.58 L325.4,283.16 L326.4,282.73 L327.4,282.3 L328.4,281.89 L329.4,281.48 L330.4,281.09 L331.4,280.72 L332.4,280.37 L333.4,280.05 L334.4,279.77 L335.4,279.52 L336.4,279.31 L337.4,279.14 L338.4,279.01 L339.4,278.93 L340.4,278.9 L341.4,278.92 L342.4,278.98 L343.4,279.08 L344.4,279.23 L345.4,279.43 L346.4,279.66 L347.4,279.94 L348.4,280.24 L349.4,280.58 L350.4,280.94 L351.4,281.32 L352.4,281.72 L353.4,282.13 L354.4,282.56 L355.4,282.99 L356.4,283.41 L357.4,283.84 L358.4,284.26 L359.4,284.67 L360.4,285.06 L361.4,285.45 L362.4,285.81 L363.4,286.16 L364.4,286.49 L365.4,286.8 L366.4,287.09 L367.4,287.35 L368.4,287.6 L369.4,287.82 L370.4,288.03 L371.3,288.19 L371.3,289.5 L228.4,289.5 Z" fill="#fad4e3" stroke="none"/>
<path d="M302.4,289.09 L303.4,289.01 L304.4,288.92 L305.4,288.82 L306.4,288.71 L307.4,288.58 L308.4,288.44 L309.4,288.28 L310.4,288.1 L311.4,287.91 L312.4,287.69 L313.4,287.45 L314.4,287.19 L315.4,286.92 L316.4,286.62 L317.4,286.29 L318.4,285.95 L319.4,285.6 L320.4,285.22 L321.4,284.83 L322.4,284.42 L323.4,284.01 L324.4,283.58 L325.4,283.16 L326.4,282.73 L327.4,282.3 L328.4,281.89 L329.4,281.48 L330.4,281.09 L331.4,280.72 L332.4,280.37 L333.4,280.05 L334.4,279.77 L335.4,279.52 L336.4,279.31 L337.4,279.14 L338.4,279.01 L339.4,278.93 L340.4,278.9 L341.4,278.92 L342.4,278.98 L343.4,279.08 L344.4,279.23 L345.4,279.43 L346.4,279.66 L347.4,279.94 L348.4,280.24 L349.4,280.58 L350.4,280.94 L351.4,281.32 L352.4,281.72 L353.4,282.13 L354.4,282.56 L355.4,282.99 L356.4,283.41 L357.4,283.84 L358.4,284.26 L359.4,284.67 L360.4,285.06 L361.4,285.45 L362.4,285.81 L363.4,286.16 L364.4,286.49 L365.4,286.8 L366.4,287.09 L367.4,287.35 L368.4,287.6 L369.4,287.82 L370.4,288.03 L371.3,288.19" fill="none" stroke="#efb4cf" stroke-width="1.1"/>
<path d="M228.4,288.86 L229.4,288.77 L230.4,288.66 L231.4,288.54 L232.4,288.41 L233.4,288.27 L234.4,288.11 L235.4,287.94 L236.4,287.76 L237.4,287.56 L238.4,287.34 L239.4,287.11 L240.4,286.87 L241.4,286.61 L242.4,286.33 L243.4,286.05 L244.4,285.75 L245.4,285.44 L246.4,285.12 L247.4,284.79 L248.4,284.46 L249.4,284.12 L250.4,283.78 L251.4,283.45 L252.4,283.11 L253.4,282.79 L254.4,282.47 L255.4,282.16 L256.4,281.87 L257.4,281.6 L258.4,281.34 L259.4,281.11 L260.4,280.91 L261.4,280.73 L262.4,280.58 L263.4,280.46 L264.4,280.37 L265.4,280.32 L266.4,280.3 L267.4,280.31 L268.4,280.36 L269.4,280.44 L270.4,280.55 L271.4,280.7 L272.4,280.87 L273.4,281.07 L274.4,281.3 L275.4,281.55 L276.4,281.82 L277.4,282.1 L278.4,282.41 L279.4,282.72 L280.4,283.05 L281.4,283.38 L282.4,283.72 L283.4,284.06 L284.4,284.39 L285.4,284.73 L286.4,285.05 L287.4,285.38 L288.4,285.69 L289.4,285.99 L290.4,286.28 L291.4,286.55 L292.4,286.82 L293.4,287.06 L294.4,287.3 L295.4,287.52 L296.4,287.72 L297.4,287.91 L298.4,288.08 L299.4,288.24 L300.4,288.39 L301.4,288.52 L302.4,288.64 L303.4,288.75 L304.4,288.84 L305.4,288.93 L306.4,289.01 L307.4,289.07 L308.4,289.13 L309.4,289.19 L310.4,289.23 L311.4,289.27 L312.4,289.31 L313.4,289.34 L314.4,289.36 L315.4,289.39 L316.4,289.4 L317.4,289.42 L318.4,289.43 L319.4,289.45 L320.4,289.46 L321.4,289.46 L322.4,289.47 L323.4,289.48 L324.4,289.48 L325.4,289.48 L326.4,289.49 L327.4,289.49 L328.4,289.49 L329.4,289.49 L330.4,289.49 L331.4,289.5 L332.4,289.5 L333.4,289.5 L334.4,289.5 L335.4,289.5 L336.4,289.5 L337.4,289.5 L338.4,289.5 L339.4,289.5 L340.4,289.5 L341.4,289.5 L342.4,289.5 L343.4,289.5 L344.4,289.5 L345.4,289.5 L346.4,289.5 L347.4,289.5 L348.4,289.5 L349.4,289.5 L350.4,289.5 L351.4,289.5 L352.4,289.5 L353.4,289.5 L354.4,289.5 L355.4,289.5 L356.4,289.5 L357.4,289.5 L358.4,289.5 L359.4,289.5 L360.4,289.5 L361.4,289.5 L362.4,289.5 L363.4,289.5 L364.4,289.5 L365.4,289.5 L366.4,289.5 L367.4,289.5 L368.4,289.5 L369.4,289.5 L370.4,289.5 L371.3,289.5 L371.3,289.5 L228.4,289.5 Z" fill="#fbab80" stroke="none"/>
<path d="M228.4,288.86 L229.4,288.77 L230.4,288.66 L231.4,288.54 L232.4,288.41 L233.4,288.27 L234.4,288.11 L235.4,287.94 L236.4,287.76 L237.4,287.56 L238.4,287.34 L239.4,287.11 L240.4,286.87 L241.4,286.61 L242.4,286.33 L243.4,286.05 L244.4,285.75 L245.4,285.44 L246.4,285.12 L247.4,284.79 L248.4,284.46 L249.4,284.12 L250.4,283.78 L251.4,283.45 L252.4,283.11 L253.4,282.79 L254.4,282.47 L255.4,282.16 L256.4,281.87 L257.4,281.6 L258.4,281.34 L259.4,281.11 L260.4,280.91 L261.4,280.73 L262.4,280.58 L263.4,280.46 L264.4,280.37 L265.4,280.32 L266.4,280.3 L267.4,280.31 L268.4,280.36 L269.4,280.44 L270.4,280.55 L271.4,280.7 L272.4,280.87 L273.4,281.07 L274.4,281.3 L275.4,281.55 L276.4,281.82 L277.4,282.1 L278.4,282.41 L279.4,282.72 L280.4,283.05 L281.4,283.38 L282.4,283.72 L283.4,284.06 L284.4,284.39 L285.4,284.73 L286.4,285.05 L287.4,285.38 L288.4,285.69 L289.4,285.99 L290.4,286.28 L291.4,286.55 L292.4,286.82 L293.4,287.06 L294.4,287.3 L295.4,287.52 L296.4,287.72 L297.4,287.91 L298.4,288.08 L299.4,288.24 L300.4,288.39 L301.4,288.52 L302.4,288.64 L303.4,288.75 L304.4,288.84 L305.4,288.93 L306.4,289.01 L307.4,289.07 L308.4,289.13 L309.4,289.19 L310.4,289.23 L311.4,289.27 L312.4,289.31 L313.4,289.34 L314.4,289.36 L315.4,289.39 L316.4,289.4 L317.4,289.42 L318.4,289.43 L319.4,289.45 L320.4,289.46 L321.4,289.46 L322.4,289.47 L323.4,289.48 L324.4,289.48 L325.4,289.48 L326.4,289.49 L327.4,289.49 L328.4,289.49 L329.4,289.49 L330.4,289.49 L331.4,289.5 L332.4,289.5 L333.4,289.5 L334.4,289.5 L335.4,289.5 L336.4,289.5 L337.4,289.5 L338.4,289.5 L339.4,289.5 L340.4,289.5 L341.4,289.5 L342.4,289.5 L343.4,289.5 L344.4,289.5 L345.4,289.5 L346.4,289.5 L347.4,289.5 L348.4,289.5 L349.4,289.5 L350.4,289.5 L351.4,289.5 L352.4,289.5 L353.4,289.5 L354.4,289.5 L355.4,289.5 L356.4,289.5 L357.4,289.5 L358.4,289.5 L359.4,289.5 L360.4,289.5 L361.4,289.5 L362.4,289.5 L363.4,289.5 L364.4,289.5 L365.4,289.5 L366.4,289.5 L367.4,289.5 L368.4,289.5 L369.4,289.5 L370.4,289.5 L371.3,289.5" fill="none" stroke="#f06418" stroke-width="1.1"/>
<path d="M228.4,289.2 C229.5,289.08 232.23,288.97 235,288.5 C237.77,288.03 242.17,287.08 245,286.4 C247.83,285.72 249.2,285.25 252,284.4 C254.8,283.55 259.47,282.15 261.8,281.3 C264.13,280.45 264.68,280.08 266,279.3 C267.32,278.52 268.6,277.73 269.7,276.6 C270.8,275.47 271.65,273.9 272.6,272.5 C273.55,271.1 274.47,269.85 275.4,268.2 C276.33,266.55 277.27,264.48 278.2,262.6 C279.13,260.72 280.03,258.9 281,256.9 C281.97,254.9 283.07,252.48 284,250.6 C284.93,248.72 285.6,247.43 286.6,245.6 C287.6,243.77 288.85,241.32 290,239.6 C291.15,237.88 292.25,236.3 293.5,235.3 C294.75,234.3 295.88,233.33 297.5,233.6 C299.12,233.87 301.4,234.87 303.2,236.9 C305,238.93 306.6,242.62 308.3,245.8 C310,248.98 311.7,252.6 313.4,256 C315.1,259.4 316.82,263.23 318.5,266.2 C320.18,269.17 321.82,272.1 323.5,273.8 C325.18,275.5 326.68,275.82 328.6,276.4 C330.52,276.98 332.6,276.78 335,277.3 C337.4,277.82 340.32,278.63 343,279.5 C345.68,280.37 347.93,281.28 351.1,282.5 C354.27,283.72 358.63,285.72 362,286.8 C365.37,287.88 369.75,288.63 371.3,289" fill="none" stroke="#2a2a2a" stroke-width="1.2"/>
</g>
<rect x="228.4" y="29.2" width="143.1" height="261.3" fill="none" stroke="#6a6a6a" stroke-width="1.2"/>
<line x1="229.33" y1="290.5" x2="229.33" y2="293.8" stroke="#444" stroke-width="1.1"/>
<line x1="239.42" y1="290.5" x2="239.42" y2="293.8" stroke="#444" stroke-width="1.1"/>
<line x1="249.51" y1="290.5" x2="249.51" y2="293.8" stroke="#444" stroke-width="1.1"/>
<line x1="259.6" y1="290.5" x2="259.6" y2="296" stroke="#444" stroke-width="1.1"/>
<line x1="269.69" y1="290.5" x2="269.69" y2="293.8" stroke="#444" stroke-width="1.1"/>
<line x1="279.78" y1="290.5" x2="279.78" y2="293.8" stroke="#444" stroke-width="1.1"/>
<line x1="289.87" y1="290.5" x2="289.87" y2="293.8" stroke="#444" stroke-width="1.1"/>
<line x1="299.96" y1="290.5" x2="299.96" y2="293.8" stroke="#444" stroke-width="1.1"/>
<line x1="310.05" y1="290.5" x2="310.05" y2="296" stroke="#444" stroke-width="1.1"/>
<line x1="320.14" y1="290.5" x2="320.14" y2="293.8" stroke="#444" stroke-width="1.1"/>
<line x1="330.23" y1="290.5" x2="330.23" y2="293.8" stroke="#444" stroke-width="1.1"/>
<line x1="340.32" y1="290.5" x2="340.32" y2="293.8" stroke="#444" stroke-width="1.1"/>
<line x1="350.41" y1="290.5" x2="350.41" y2="293.8" stroke="#444" stroke-width="1.1"/>
<line x1="360.5" y1="290.5" x2="360.5" y2="296" stroke="#444" stroke-width="1.1"/>
<line x1="370.59" y1="290.5" x2="370.59" y2="293.8" stroke="#444" stroke-width="1.1"/>
<text x="259.6" y="308.4" text-anchor="middle" fill="#1a1a1a" style="font-family:'Liberation Sans';font-size:11.2px;" stroke="#1a1a1a" stroke-width="0.2">700</text>
<text x="310.05" y="308.4" text-anchor="middle" fill="#1a1a1a" style="font-family:'Liberation Sans';font-size:11.2px;" stroke="#1a1a1a" stroke-width="0.2">650</text>
<text x="360.5" y="308.4" text-anchor="middle" fill="#1a1a1a" style="font-family:'Liberation Sans';font-size:11.2px;" stroke="#1a1a1a" stroke-width="0.2">600</text>
<text x="299.95" y="323.6" text-anchor="middle" fill="#1a1a1a" style="font-family:'Liberation Sans';font-size:11.5px;" stroke="#1a1a1a" stroke-width="0.2">Wavelength (nm)</text>
<clipPath id="clip2"><rect x="399.1" y="29.2" width="142.7" height="260.8"/></clipPath>
<g clip-path="url(#clip2)">
<path d="M402,181.4 L403,181.4 L404,181.4 L405,181.4 L406,181.4 L407,181.4 L408,181.4 L409,181.4 L410,181.4 L411,181.4 L412,181.4 L413,181.4 L414,181.4 L415,181.4 L416,181.4 L417,181.4 L418,181.4 L419,181.4 L420,181.4 L421,181.4 L422,181.4 L423,181.4 L424,181.4 L425,181.4 L426,181.39 L427,181.39 L428,181.39 L429,181.38 L430,181.38 L431,181.37 L432,181.36 L433,181.34 L434,181.32 L435,181.3 L436,181.27 L437,181.23 L438,181.18 L439,181.12 L440,181.04 L441,180.95 L442,180.83 L443,180.69 L444,180.52 L445,180.32 L446,180.08 L447,179.8 L448,179.47 L449,179.1 L450,178.66 L451,178.18 L452,177.62 L453,177.01 L454,176.33 L455,175.59 L456,174.78 L457,173.92 L458,173 L459,172.03 L460,171.02 L461,169.99 L462,168.93 L463,167.88 L464,166.84 L465,165.82 L466,164.85 L467,163.94 L468,163.11 L469,162.37 L470,161.74 L471,161.23 L472,160.85 L473,160.6 L474,160.5 L475,160.55 L476,160.73 L477,161.06 L478,161.52 L479,162.11 L480,162.8 L481,163.6 L482,164.48 L483,165.43 L484,166.43 L485,167.46 L486,168.51 L487,169.57 L488,170.61 L489,171.63 L490,172.62 L491,173.56 L492,174.44 L493,175.27 L494,176.04 L495,176.75 L496,177.39 L497,177.96 L498,178.48 L499,178.93 L500,179.33 L501,179.67 L502,179.97 L503,180.23 L504,180.44 L505,180.62 L506,180.78 L507,180.9 L508,181 L509,181.09 L510,181.16 L511,181.21 L512,181.25 L513,181.29 L514,181.31 L515,181.34 L516,181.35 L517,181.36 L518,181.37 L519,181.38 L520,181.39 L521,181.39 L522,181.39 L523,181.39 L524,181.4 L525,181.4 L526,181.4 L527,181.4 L528,181.4 L529,181.4 L530,181.4 L531,181.4 L532,181.4 L533,181.4 L534,181.4 L535,181.4 L536,181.4 L537,181.4 L538,181.4 L539,181.4 L540,181.4 L541,181.4 L541.6,181.4 L541.6,181.4 L402,181.4 Z" fill="#94e078" stroke="none"/>
<path d="M440,181.04 L441,180.95 L442,180.83 L443,180.69 L444,180.52 L445,180.32 L446,180.08 L447,179.8 L448,179.47 L449,179.1 L450,178.66 L451,178.18 L452,177.62 L453,177.01 L454,176.33 L455,175.59 L456,174.78 L457,173.92 L458,173 L459,172.03 L460,171.02 L461,169.99 L462,168.93 L463,167.88 L464,166.84 L465,165.82 L466,164.85 L467,163.94 L468,163.11 L469,162.37 L470,161.74 L471,161.23 L472,160.85 L473,160.6 L474,160.5 L475,160.55 L476,160.73 L477,161.06 L478,161.52 L479,162.11 L480,162.8 L481,163.6 L482,164.48 L483,165.43 L484,166.43 L485,167.46 L486,168.51 L487,169.57 L488,170.61 L489,171.63 L490,172.62 L491,173.56 L492,174.44 L493,175.27 L494,176.04 L495,176.75 L496,177.39 L497,177.96 L498,178.48 L499,178.93 L500,179.33 L501,179.67 L502,179.97 L503,180.23 L504,180.44 L505,180.62 L506,180.78 L507,180.9 L508,181" fill="none" stroke="#3ccc1c" stroke-width="1.1"/>
<path d="M402,181.4 L403,181.4 L404,181.4 L405,181.4 L406,181.4 L407,181.4 L408,181.4 L409,181.4 L410,181.4 L411,181.4 L412,181.4 L413,181.4 L414,181.4 L415,181.4 L416,181.4 L417,181.4 L418,181.4 L419,181.4 L420,181.4 L421,181.4 L422,181.4 L423,181.4 L424,181.4 L425,181.4 L426,181.4 L427,181.4 L428,181.4 L429,181.4 L430,181.4 L431,181.4 L432,181.4 L433,181.4 L434,181.4 L435,181.4 L436,181.4 L437,181.4 L438,181.4 L439,181.4 L440,181.4 L441,181.4 L442,181.4 L443,181.4 L444,181.4 L445,181.4 L446,181.4 L447,181.4 L448,181.4 L449,181.4 L450,181.4 L451,181.4 L452,181.4 L453,181.4 L454,181.4 L455,181.4 L456,181.4 L457,181.4 L458,181.4 L459,181.4 L460,181.4 L461,181.4 L462,181.39 L463,181.39 L464,181.39 L465,181.39 L466,181.38 L467,181.38 L468,181.37 L469,181.37 L470,181.36 L471,181.35 L472,181.34 L473,181.32 L474,181.3 L475,181.28 L476,181.26 L477,181.23 L478,181.19 L479,181.15 L480,181.11 L481,181.06 L482,181 L483,180.93 L484,180.85 L485,180.77 L486,180.67 L487,180.57 L488,180.45 L489,180.33 L490,180.19 L491,180.05 L492,179.89 L493,179.72 L494,179.55 L495,179.37 L496,179.18 L497,178.99 L498,178.79 L499,178.59 L500,178.39 L501,178.19 L502,178 L503,177.82 L504,177.64 L505,177.48 L506,177.33 L507,177.19 L508,177.07 L509,176.98 L510,176.9 L511,176.84 L512,176.81 L513,176.8 L514,176.81 L515,176.85 L516,176.91 L517,176.99 L518,177.1 L519,177.22 L520,177.36 L521,177.51 L522,177.68 L523,177.85 L524,178.04 L525,178.23 L526,178.43 L527,178.63 L528,178.83 L529,179.03 L530,179.22 L531,179.41 L532,179.59 L533,179.76 L534,179.92 L535,180.08 L536,180.22 L537,180.35 L538,180.48 L539,180.59 L540,180.69 L541,180.79 L541.6,180.84 L541.6,181.4 L402,181.4 Z" fill="#fad4e3" stroke="none"/>
<path d="M482,181 L483,180.93 L484,180.85 L485,180.77 L486,180.67 L487,180.57 L488,180.45 L489,180.33 L490,180.19 L491,180.05 L492,179.89 L493,179.72 L494,179.55 L495,179.37 L496,179.18 L497,178.99 L498,178.79 L499,178.59 L500,178.39 L501,178.19 L502,178 L503,177.82 L504,177.64 L505,177.48 L506,177.33 L507,177.19 L508,177.07 L509,176.98 L510,176.9 L511,176.84 L512,176.81 L513,176.8 L514,176.81 L515,176.85 L516,176.91 L517,176.99 L518,177.1 L519,177.22 L520,177.36 L521,177.51 L522,177.68 L523,177.85 L524,178.04 L525,178.23 L526,178.43 L527,178.63 L528,178.83 L529,179.03 L530,179.22 L531,179.41 L532,179.59 L533,179.76 L534,179.92 L535,180.08 L536,180.22 L537,180.35 L538,180.48 L539,180.59 L540,180.69 L541,180.79 L541.6,180.84" fill="none" stroke="#efb4cf" stroke-width="1.1"/>
<path d="M402,181.32 L403,181.31 L404,181.29 L405,181.27 L406,181.25 L407,181.22 L408,181.2 L409,181.16 L410,181.13 L411,181.08 L412,181.04 L413,180.98 L414,180.93 L415,180.86 L416,180.79 L417,180.71 L418,180.63 L419,180.53 L420,180.43 L421,180.32 L422,180.2 L423,180.08 L424,179.94 L425,179.8 L426,179.65 L427,179.49 L428,179.32 L429,179.15 L430,178.97 L431,178.79 L432,178.6 L433,178.41 L434,178.22 L435,178.03 L436,177.84 L437,177.65 L438,177.46 L439,177.28 L440,177.1 L441,176.94 L442,176.78 L443,176.63 L444,176.5 L445,176.38 L446,176.28 L447,176.19 L448,176.11 L449,176.06 L450,176.02 L451,176 L452,176 L453,176.02 L454,176.06 L455,176.11 L456,176.19 L457,176.28 L458,176.38 L459,176.5 L460,176.63 L461,176.78 L462,176.94 L463,177.1 L464,177.28 L465,177.46 L466,177.65 L467,177.84 L468,178.03 L469,178.22 L470,178.41 L471,178.6 L472,178.79 L473,178.97 L474,179.15 L475,179.32 L476,179.49 L477,179.65 L478,179.8 L479,179.94 L480,180.08 L481,180.2 L482,180.32 L483,180.43 L484,180.53 L485,180.63 L486,180.71 L487,180.79 L488,180.86 L489,180.93 L490,180.98 L491,181.04 L492,181.08 L493,181.13 L494,181.16 L495,181.2 L496,181.22 L497,181.25 L498,181.27 L499,181.29 L500,181.31 L501,181.32 L502,181.33 L503,181.35 L504,181.35 L505,181.36 L506,181.37 L507,181.37 L508,181.38 L509,181.38 L510,181.39 L511,181.39 L512,181.39 L513,181.39 L514,181.39 L515,181.39 L516,181.4 L517,181.4 L518,181.4 L519,181.4 L520,181.4 L521,181.4 L522,181.4 L523,181.4 L524,181.4 L525,181.4 L526,181.4 L527,181.4 L528,181.4 L529,181.4 L530,181.4 L531,181.4 L532,181.4 L533,181.4 L534,181.4 L535,181.4 L536,181.4 L537,181.4 L538,181.4 L539,181.4 L540,181.4 L541,181.4 L541.6,181.4 L541.6,181.4 L402,181.4 Z" fill="#fbab80" stroke="none"/>
<path d="M402,181.32 L403,181.31 L404,181.29 L405,181.27 L406,181.25 L407,181.22 L408,181.2 L409,181.16 L410,181.13 L411,181.08 L412,181.04 L413,180.98 L414,180.93 L415,180.86 L416,180.79 L417,180.71 L418,180.63 L419,180.53 L420,180.43 L421,180.32 L422,180.2 L423,180.08 L424,179.94 L425,179.8 L426,179.65 L427,179.49 L428,179.32 L429,179.15 L430,178.97 L431,178.79 L432,178.6 L433,178.41 L434,178.22 L435,178.03 L436,177.84 L437,177.65 L438,177.46 L439,177.28 L440,177.1 L441,176.94 L442,176.78 L443,176.63 L444,176.5 L445,176.38 L446,176.28 L447,176.19 L448,176.11 L449,176.06 L450,176.02 L451,176 L452,176 L453,176.02 L454,176.06 L455,176.11 L456,176.19 L457,176.28 L458,176.38 L459,176.5 L460,176.63 L461,176.78 L462,176.94 L463,177.1 L464,177.28 L465,177.46 L466,177.65 L467,177.84 L468,178.03 L469,178.22 L470,178.41 L471,178.6 L472,178.79 L473,178.97 L474,179.15 L475,179.32 L476,179.49 L477,179.65 L478,179.8 L479,179.94 L480,180.08 L481,180.2 L482,180.32 L483,180.43 L484,180.53 L485,180.63 L486,180.71 L487,180.79 L488,180.86 L489,180.93 L490,180.98 L491,181.04 L492,181.08 L493,181.13 L494,181.16 L495,181.2 L496,181.22 L497,181.25 L498,181.27 L499,181.29 L500,181.31 L501,181.32 L502,181.33 L503,181.35 L504,181.35 L505,181.36 L506,181.37 L507,181.37 L508,181.38 L509,181.38 L510,181.39 L511,181.39 L512,181.39 L513,181.39 L514,181.39 L515,181.39 L516,181.4 L517,181.4 L518,181.4 L519,181.4 L520,181.4 L521,181.4 L522,181.4 L523,181.4 L524,181.4 L525,181.4 L526,181.4 L527,181.4 L528,181.4 L529,181.4 L530,181.4 L531,181.4 L532,181.4 L533,181.4 L534,181.4 L535,181.4 L536,181.4 L537,181.4 L538,181.4 L539,181.4 L540,181.4 L541,181.4 L541.6,181.4" fill="none" stroke="#f06418" stroke-width="1.1"/>
<path d="M402,181.2 C405.78,181.02 418.68,180.85 424.7,180.1 C430.72,179.35 433.63,178.47 438.1,176.7 C442.57,174.93 447.48,172.05 451.5,169.5 C455.52,166.95 458.65,163.32 462.2,161.4 C465.75,159.48 469.25,157.77 472.8,158 C476.35,158.23 479.93,160.45 483.5,162.8 C487.07,165.15 490.63,169.88 494.2,172.1 C497.77,174.32 500.88,175.3 504.9,176.1 C508.92,176.9 513.83,176.45 518.3,176.9 C522.77,177.35 527.92,178.12 531.7,178.8 C535.48,179.48 539.45,180.63 541,181" fill="none" stroke="#2a2a2a" stroke-width="1.2"/>
<path d="M402,236.5 L403,236.5 L404,236.5 L405,236.5 L406,236.5 L407,236.5 L408,236.5 L409,236.5 L410,236.5 L411,236.5 L412,236.5 L413,236.5 L414,236.5 L415,236.5 L416,236.5 L417,236.5 L418,236.5 L419,236.5 L420,236.49 L421,236.49 L422,236.49 L423,236.48 L424,236.48 L425,236.47 L426,236.46 L427,236.45 L428,236.43 L429,236.41 L430,236.39 L431,236.36 L432,236.32 L433,236.27 L434,236.21 L435,236.14 L436,236.05 L437,235.95 L438,235.82 L439,235.67 L440,235.49 L441,235.28 L442,235.03 L443,234.74 L444,234.41 L445,234.03 L446,233.6 L447,233.11 L448,232.57 L449,231.96 L450,231.28 L451,230.54 L452,229.74 L453,228.87 L454,227.93 L455,226.94 L456,225.89 L457,224.8 L458,223.67 L459,222.51 L460,221.33 L461,220.14 L462,218.96 L463,217.81 L464,216.7 L465,215.63 L466,214.64 L467,213.73 L468,212.92 L469,212.22 L470,211.64 L471,211.2 L472,210.89 L473,210.73 L474,210.71 L475,210.84 L476,211.12 L477,211.54 L478,212.09 L479,212.77 L480,213.56 L481,214.45 L482,215.43 L483,216.48 L484,217.58 L485,218.73 L486,219.9 L487,221.09 L488,222.27 L489,223.44 L490,224.58 L491,225.68 L492,226.73 L493,227.74 L494,228.68 L495,229.57 L496,230.39 L497,231.14 L498,231.83 L499,232.45 L500,233.01 L501,233.51 L502,233.95 L503,234.34 L504,234.68 L505,234.98 L506,235.23 L507,235.45 L508,235.64 L509,235.79 L510,235.92 L511,236.03 L512,236.13 L513,236.2 L514,236.26 L515,236.31 L516,236.35 L517,236.38 L518,236.41 L519,236.43 L520,236.45 L521,236.46 L522,236.47 L523,236.48 L524,236.48 L525,236.49 L526,236.49 L527,236.49 L528,236.49 L529,236.5 L530,236.5 L531,236.5 L532,236.5 L533,236.5 L534,236.5 L535,236.5 L536,236.5 L537,236.5 L538,236.5 L539,236.5 L540,236.5 L541,236.5 L541.6,236.5 L541.6,236.5 L402,236.5 Z" fill="#94e078" stroke="none"/>
<path d="M435,236.14 L436,236.05 L437,235.95 L438,235.82 L439,235.67 L440,235.49 L441,235.28 L442,235.03 L443,234.74 L444,234.41 L445,234.03 L446,233.6 L447,233.11 L448,232.57 L449,231.96 L450,231.28 L451,230.54 L452,229.74 L453,228.87 L454,227.93 L455,226.94 L456,225.89 L457,224.8 L458,223.67 L459,222.51 L460,221.33 L461,220.14 L462,218.96 L463,217.81 L464,216.7 L465,215.63 L466,214.64 L467,213.73 L468,212.92 L469,212.22 L470,211.64 L471,211.2 L472,210.89 L473,210.73 L474,210.71 L475,210.84 L476,211.12 L477,211.54 L478,212.09 L479,212.77 L480,213.56 L481,214.45 L482,215.43 L483,216.48 L484,217.58 L485,218.73 L486,219.9 L487,221.09 L488,222.27 L489,223.44 L490,224.58 L491,225.68 L492,226.73 L493,227.74 L494,228.68 L495,229.57 L496,230.39 L497,231.14 L498,231.83 L499,232.45 L500,233.01 L501,233.51 L502,233.95 L503,234.34 L504,234.68 L505,234.98 L506,235.23 L507,235.45 L508,235.64 L509,235.79 L510,235.92 L511,236.03 L512,236.13" fill="none" stroke="#3ccc1c" stroke-width="1.1"/>
<path d="M402,236.5 L403,236.5 L404,236.5 L405,236.5 L406,236.5 L407,236.5 L408,236.5 L409,236.5 L410,236.5 L411,236.5 L412,236.5 L413,236.5 L414,236.5 L415,236.5 L416,236.5 L417,236.5 L418,236.5 L419,236.5 L420,236.5 L421,236.5 L422,236.5 L423,236.5 L424,236.5 L425,236.5 L426,236.5 L427,236.5 L428,236.5 L429,236.5 L430,236.5 L431,236.5 L432,236.5 L433,236.5 L434,236.5 L435,236.5 L436,236.5 L437,236.5 L438,236.5 L439,236.5 L440,236.5 L441,236.5 L442,236.5 L443,236.5 L444,236.5 L445,236.5 L446,236.5 L447,236.5 L448,236.5 L449,236.5 L450,236.5 L451,236.5 L452,236.5 L453,236.5 L454,236.5 L455,236.5 L456,236.5 L457,236.5 L458,236.5 L459,236.5 L460,236.5 L461,236.5 L462,236.5 L463,236.5 L464,236.5 L465,236.5 L466,236.5 L467,236.5 L468,236.5 L469,236.49 L470,236.49 L471,236.49 L472,236.49 L473,236.48 L474,236.48 L475,236.47 L476,236.47 L477,236.46 L478,236.45 L479,236.44 L480,236.43 L481,236.41 L482,236.4 L483,236.38 L484,236.35 L485,236.32 L486,236.29 L487,236.25 L488,236.21 L489,236.16 L490,236.11 L491,236.05 L492,235.99 L493,235.91 L494,235.83 L495,235.75 L496,235.66 L497,235.56 L498,235.45 L499,235.34 L500,235.22 L501,235.1 L502,234.98 L503,234.85 L504,234.72 L505,234.59 L506,234.46 L507,234.33 L508,234.21 L509,234.09 L510,233.98 L511,233.88 L512,233.79 L513,233.71 L514,233.64 L515,233.58 L516,233.54 L517,233.51 L518,233.5 L519,233.5 L520,233.52 L521,233.56 L522,233.6 L523,233.66 L524,233.74 L525,233.82 L526,233.92 L527,234.03 L528,234.14 L529,234.26 L530,234.38 L531,234.51 L532,234.64 L533,234.77 L534,234.9 L535,235.03 L536,235.15 L537,235.27 L538,235.39 L539,235.49 L540,235.6 L541,235.69 L541.6,235.75 L541.6,236.5 L402,236.5 Z" fill="#fad4e3" stroke="none"/>
<path d="M490,236.11 L491,236.05 L492,235.99 L493,235.91 L494,235.83 L495,235.75 L496,235.66 L497,235.56 L498,235.45 L499,235.34 L500,235.22 L501,235.1 L502,234.98 L503,234.85 L504,234.72 L505,234.59 L506,234.46 L507,234.33 L508,234.21 L509,234.09 L510,233.98 L511,233.88 L512,233.79 L513,233.71 L514,233.64 L515,233.58 L516,233.54 L517,233.51 L518,233.5 L519,233.5 L520,233.52 L521,233.56 L522,233.6 L523,233.66 L524,233.74 L525,233.82 L526,233.92 L527,234.03 L528,234.14 L529,234.26 L530,234.38 L531,234.51 L532,234.64 L533,234.77 L534,234.9 L535,235.03 L536,235.15 L537,235.27 L538,235.39 L539,235.49 L540,235.6 L541,235.69 L541.6,235.75" fill="none" stroke="#efb4cf" stroke-width="1.1"/>
<path d="M402,236.4 L403,236.38 L404,236.36 L405,236.34 L406,236.32 L407,236.29 L408,236.25 L409,236.22 L410,236.17 L411,236.13 L412,236.08 L413,236.02 L414,235.96 L415,235.89 L416,235.82 L417,235.74 L418,235.65 L419,235.55 L420,235.45 L421,235.34 L422,235.23 L423,235.11 L424,234.98 L425,234.85 L426,234.71 L427,234.57 L428,234.42 L429,234.27 L430,234.11 L431,233.96 L432,233.8 L433,233.64 L434,233.49 L435,233.34 L436,233.19 L437,233.04 L438,232.9 L439,232.77 L440,232.65 L441,232.54 L442,232.44 L443,232.35 L444,232.27 L445,232.21 L446,232.16 L447,232.12 L448,232.1 L449,232.1 L450,232.11 L451,232.14 L452,232.18 L453,232.23 L454,232.3 L455,232.38 L456,232.48 L457,232.58 L458,232.7 L459,232.82 L460,232.96 L461,233.1 L462,233.25 L463,233.4 L464,233.55 L465,233.71 L466,233.86 L467,234.02 L468,234.17 L469,234.33 L470,234.48 L471,234.62 L472,234.77 L473,234.9 L474,235.03 L475,235.16 L476,235.28 L477,235.39 L478,235.49 L479,235.59 L480,235.68 L481,235.77 L482,235.85 L483,235.92 L484,235.98 L485,236.04 L486,236.1 L487,236.15 L488,236.19 L489,236.23 L490,236.27 L491,236.3 L492,236.33 L493,236.35 L494,236.37 L495,236.39 L496,236.41 L497,236.42 L498,236.43 L499,236.44 L500,236.45 L501,236.46 L502,236.47 L503,236.47 L504,236.48 L505,236.48 L506,236.48 L507,236.49 L508,236.49 L509,236.49 L510,236.49 L511,236.49 L512,236.5 L513,236.5 L514,236.5 L515,236.5 L516,236.5 L517,236.5 L518,236.5 L519,236.5 L520,236.5 L521,236.5 L522,236.5 L523,236.5 L524,236.5 L525,236.5 L526,236.5 L527,236.5 L528,236.5 L529,236.5 L530,236.5 L531,236.5 L532,236.5 L533,236.5 L534,236.5 L535,236.5 L536,236.5 L537,236.5 L538,236.5 L539,236.5 L540,236.5 L541,236.5 L541.6,236.5 L541.6,236.5 L402,236.5 Z" fill="#fbab80" stroke="none"/>
<path d="M402,236.4 L403,236.38 L404,236.36 L405,236.34 L406,236.32 L407,236.29 L408,236.25 L409,236.22 L410,236.17 L411,236.13 L412,236.08 L413,236.02 L414,235.96 L415,235.89 L416,235.82 L417,235.74 L418,235.65 L419,235.55 L420,235.45 L421,235.34 L422,235.23 L423,235.11 L424,234.98 L425,234.85 L426,234.71 L427,234.57 L428,234.42 L429,234.27 L430,234.11 L431,233.96 L432,233.8 L433,233.64 L434,233.49 L435,233.34 L436,233.19 L437,233.04 L438,232.9 L439,232.77 L440,232.65 L441,232.54 L442,232.44 L443,232.35 L444,232.27 L445,232.21 L446,232.16 L447,232.12 L448,232.1 L449,232.1 L450,232.11 L451,232.14 L452,232.18 L453,232.23 L454,232.3 L455,232.38 L456,232.48 L457,232.58 L458,232.7 L459,232.82 L460,232.96 L461,233.1 L462,233.25 L463,233.4 L464,233.55 L465,233.71 L466,233.86 L467,234.02 L468,234.17 L469,234.33 L470,234.48 L471,234.62 L472,234.77 L473,234.9 L474,235.03 L475,235.16 L476,235.28 L477,235.39 L478,235.49 L479,235.59 L480,235.68 L481,235.77 L482,235.85 L483,235.92 L484,235.98 L485,236.04 L486,236.1 L487,236.15 L488,236.19 L489,236.23 L490,236.27 L491,236.3 L492,236.33 L493,236.35 L494,236.37 L495,236.39 L496,236.41 L497,236.42 L498,236.43 L499,236.44 L500,236.45 L501,236.46 L502,236.47 L503,236.47 L504,236.48 L505,236.48 L506,236.48 L507,236.49 L508,236.49 L509,236.49 L510,236.49 L511,236.49 L512,236.5 L513,236.5 L514,236.5 L515,236.5 L516,236.5 L517,236.5 L518,236.5 L519,236.5 L520,236.5 L521,236.5 L522,236.5 L523,236.5 L524,236.5 L525,236.5 L526,236.5 L527,236.5 L528,236.5 L529,236.5 L530,236.5 L531,236.5 L532,236.5 L533,236.5 L534,236.5 L535,236.5 L536,236.5 L537,236.5 L538,236.5 L539,236.5 L540,236.5 L541,236.5 L541.6,236.5" fill="none" stroke="#f06418" stroke-width="1.1"/>
<path d="M402,236.4 C405.78,236.13 418.68,235.73 424.7,234.8 C430.72,233.87 433.63,232.8 438.1,230.8 C442.57,228.8 447.48,225.57 451.5,222.8 C455.52,220.03 458.65,216.35 462.2,214.2 C465.75,212.05 469.25,209.82 472.8,209.9 C476.35,209.98 479.93,211.88 483.5,214.7 C487.07,217.52 490.63,223.9 494.2,226.8 C497.77,229.7 500.88,231.08 504.9,232.1 C508.92,233.12 512.5,232.23 518.3,232.9 C524.1,233.57 536.13,235.57 539.7,236.1" fill="none" stroke="#2a2a2a" stroke-width="1.2"/>
<path d="M402,289.5 L403,289.5 L404,289.5 L405,289.5 L406,289.49 L407,289.49 L408,289.49 L409,289.49 L410,289.48 L411,289.48 L412,289.48 L413,289.47 L414,289.46 L415,289.45 L416,289.44 L417,289.43 L418,289.41 L419,289.39 L420,289.36 L421,289.33 L422,289.3 L423,289.25 L424,289.2 L425,289.14 L426,289.08 L427,288.99 L428,288.9 L429,288.8 L430,288.67 L431,288.53 L432,288.37 L433,288.2 L434,287.99 L435,287.77 L436,287.52 L437,287.24 L438,286.93 L439,286.6 L440,286.23 L441,285.84 L442,285.41 L443,284.95 L444,284.46 L445,283.95 L446,283.4 L447,282.83 L448,282.24 L449,281.62 L450,280.99 L451,280.35 L452,279.7 L453,279.04 L454,278.39 L455,277.75 L456,277.12 L457,276.52 L458,275.94 L459,275.39 L460,274.88 L461,274.42 L462,274.01 L463,273.65 L464,273.35 L465,273.11 L466,272.94 L467,272.83 L468,272.8 L469,272.83 L470,272.94 L471,273.11 L472,273.35 L473,273.65 L474,274.01 L475,274.42 L476,274.88 L477,275.39 L478,275.94 L479,276.52 L480,277.12 L481,277.75 L482,278.39 L483,279.04 L484,279.7 L485,280.35 L486,280.99 L487,281.62 L488,282.24 L489,282.83 L490,283.4 L491,283.95 L492,284.46 L493,284.95 L494,285.41 L495,285.84 L496,286.23 L497,286.6 L498,286.93 L499,287.24 L500,287.52 L501,287.77 L502,287.99 L503,288.2 L504,288.37 L505,288.53 L506,288.67 L507,288.8 L508,288.9 L509,288.99 L510,289.08 L511,289.14 L512,289.2 L513,289.25 L514,289.3 L515,289.33 L516,289.36 L517,289.39 L518,289.41 L519,289.43 L520,289.44 L521,289.45 L522,289.46 L523,289.47 L524,289.48 L525,289.48 L526,289.48 L527,289.49 L528,289.49 L529,289.49 L530,289.49 L531,289.5 L532,289.5 L533,289.5 L534,289.5 L535,289.5 L536,289.5 L537,289.5 L538,289.5 L539,289.5 L540,289.5 L541,289.5 L541.6,289.5 L541.6,289.5 L402,289.5 Z" fill="#94e078" stroke="none"/>
<path d="M425,289.14 L426,289.08 L427,288.99 L428,288.9 L429,288.8 L430,288.67 L431,288.53 L432,288.37 L433,288.2 L434,287.99 L435,287.77 L436,287.52 L437,287.24 L438,286.93 L439,286.6 L440,286.23 L441,285.84 L442,285.41 L443,284.95 L444,284.46 L445,283.95 L446,283.4 L447,282.83 L448,282.24 L449,281.62 L450,280.99 L451,280.35 L452,279.7 L453,279.04 L454,278.39 L455,277.75 L456,277.12 L457,276.52 L458,275.94 L459,275.39 L460,274.88 L461,274.42 L462,274.01 L463,273.65 L464,273.35 L465,273.11 L466,272.94 L467,272.83 L468,272.8 L469,272.83 L470,272.94 L471,273.11 L472,273.35 L473,273.65 L474,274.01 L475,274.42 L476,274.88 L477,275.39 L478,275.94 L479,276.52 L480,277.12 L481,277.75 L482,278.39 L483,279.04 L484,279.7 L485,280.35 L486,280.99 L487,281.62 L488,282.24 L489,282.83 L490,283.4 L491,283.95 L492,284.46 L493,284.95 L494,285.41 L495,285.84 L496,286.23 L497,286.6 L498,286.93 L499,287.24 L500,287.52 L501,287.77 L502,287.99 L503,288.2 L504,288.37 L505,288.53 L506,288.67 L507,288.8 L508,288.9 L509,288.99 L510,289.08 L511,289.14" fill="none" stroke="#3ccc1c" stroke-width="1.1"/>
<path d="M402,289.5 L403,289.5 L404,289.5 L405,289.5 L406,289.5 L407,289.5 L408,289.5 L409,289.5 L410,289.5 L411,289.5 L412,289.5 L413,289.5 L414,289.5 L415,289.5 L416,289.5 L417,289.5 L418,289.5 L419,289.5 L420,289.5 L421,289.5 L422,289.5 L423,289.5 L424,289.5 L425,289.5 L426,289.5 L427,289.5 L428,289.5 L429,289.5 L430,289.5 L431,289.5 L432,289.5 L433,289.5 L434,289.5 L435,289.5 L436,289.5 L437,289.5 L438,289.5 L439,289.5 L440,289.5 L441,289.5 L442,289.5 L443,289.5 L444,289.5 L445,289.5 L446,289.5 L447,289.5 L448,289.5 L449,289.5 L450,289.5 L451,289.5 L452,289.5 L453,289.5 L454,289.5 L455,289.5 L456,289.5 L457,289.5 L458,289.5 L459,289.5 L460,289.5 L461,289.5 L462,289.5 L463,289.5 L464,289.5 L465,289.5 L466,289.5 L467,289.5 L468,289.49 L469,289.49 L470,289.49 L471,289.49 L472,289.48 L473,289.48 L474,289.47 L475,289.47 L476,289.46 L477,289.45 L478,289.44 L479,289.42 L480,289.41 L481,289.39 L482,289.36 L483,289.34 L484,289.31 L485,289.27 L486,289.23 L487,289.18 L488,289.13 L489,289.06 L490,288.99 L491,288.92 L492,288.83 L493,288.74 L494,288.64 L495,288.52 L496,288.4 L497,288.27 L498,288.14 L499,287.99 L500,287.84 L501,287.68 L502,287.52 L503,287.35 L504,287.19 L505,287.02 L506,286.85 L507,286.68 L508,286.52 L509,286.37 L510,286.23 L511,286.1 L512,285.98 L513,285.87 L514,285.78 L515,285.71 L516,285.65 L517,285.62 L518,285.6 L519,285.6 L520,285.63 L521,285.67 L522,285.73 L523,285.81 L524,285.91 L525,286.02 L526,286.15 L527,286.28 L528,286.43 L529,286.59 L530,286.75 L531,286.92 L532,287.08 L533,287.25 L534,287.42 L535,287.59 L536,287.75 L537,287.9 L538,288.05 L539,288.19 L540,288.33 L541,288.45 L541.6,288.52 L541.6,289.5 L402,289.5 Z" fill="#fad4e3" stroke="none"/>
<path d="M488,289.13 L489,289.06 L490,288.99 L491,288.92 L492,288.83 L493,288.74 L494,288.64 L495,288.52 L496,288.4 L497,288.27 L498,288.14 L499,287.99 L500,287.84 L501,287.68 L502,287.52 L503,287.35 L504,287.19 L505,287.02 L506,286.85 L507,286.68 L508,286.52 L509,286.37 L510,286.23 L511,286.1 L512,285.98 L513,285.87 L514,285.78 L515,285.71 L516,285.65 L517,285.62 L518,285.6 L519,285.6 L520,285.63 L521,285.67 L522,285.73 L523,285.81 L524,285.91 L525,286.02 L526,286.15 L527,286.28 L528,286.43 L529,286.59 L530,286.75 L531,286.92 L532,287.08 L533,287.25 L534,287.42 L535,287.59 L536,287.75 L537,287.9 L538,288.05 L539,288.19 L540,288.33 L541,288.45 L541.6,288.52" fill="none" stroke="#efb4cf" stroke-width="1.1"/>
<path d="M402,289.41 L403,289.4 L404,289.38 L405,289.36 L406,289.34 L407,289.31 L408,289.28 L409,289.25 L410,289.21 L411,289.17 L412,289.13 L413,289.08 L414,289.02 L415,288.96 L416,288.89 L417,288.82 L418,288.74 L419,288.66 L420,288.57 L421,288.48 L422,288.37 L423,288.27 L424,288.15 L425,288.04 L426,287.91 L427,287.79 L428,287.66 L429,287.52 L430,287.38 L431,287.25 L432,287.11 L433,286.97 L434,286.83 L435,286.69 L436,286.56 L437,286.43 L438,286.31 L439,286.2 L440,286.09 L441,285.99 L442,285.9 L443,285.82 L444,285.75 L445,285.7 L446,285.65 L447,285.62 L448,285.6 L449,285.6 L450,285.61 L451,285.63 L452,285.67 L453,285.72 L454,285.78 L455,285.85 L456,285.93 L457,286.03 L458,286.13 L459,286.24 L460,286.36 L461,286.49 L462,286.62 L463,286.75 L464,286.89 L465,287.02 L466,287.16 L467,287.3 L468,287.44 L469,287.57 L470,287.71 L471,287.84 L472,287.96 L473,288.08 L474,288.2 L475,288.31 L476,288.42 L477,288.51 L478,288.61 L479,288.7 L480,288.78 L481,288.85 L482,288.92 L483,288.98 L484,289.04 L485,289.1 L486,289.14 L487,289.19 L488,289.23 L489,289.26 L490,289.29 L491,289.32 L492,289.35 L493,289.37 L494,289.39 L495,289.4 L496,289.42 L497,289.43 L498,289.44 L499,289.45 L500,289.46 L501,289.47 L502,289.47 L503,289.48 L504,289.48 L505,289.48 L506,289.49 L507,289.49 L508,289.49 L509,289.49 L510,289.49 L511,289.5 L512,289.5 L513,289.5 L514,289.5 L515,289.5 L516,289.5 L517,289.5 L518,289.5 L519,289.5 L520,289.5 L521,289.5 L522,289.5 L523,289.5 L524,289.5 L525,289.5 L526,289.5 L527,289.5 L528,289.5 L529,289.5 L530,289.5 L531,289.5 L532,289.5 L533,289.5 L534,289.5 L535,289.5 L536,289.5 L537,289.5 L538,289.5 L539,289.5 L540,289.5 L541,289.5 L541.6,289.5 L541.6,289.5 L402,289.5 Z" fill="#fbab80" stroke="none"/>
<path d="M402,289.41 L403,289.4 L404,289.38 L405,289.36 L406,289.34 L407,289.31 L408,289.28 L409,289.25 L410,289.21 L411,289.17 L412,289.13 L413,289.08 L414,289.02 L415,288.96 L416,288.89 L417,288.82 L418,288.74 L419,288.66 L420,288.57 L421,288.48 L422,288.37 L423,288.27 L424,288.15 L425,288.04 L426,287.91 L427,287.79 L428,287.66 L429,287.52 L430,287.38 L431,287.25 L432,287.11 L433,286.97 L434,286.83 L435,286.69 L436,286.56 L437,286.43 L438,286.31 L439,286.2 L440,286.09 L441,285.99 L442,285.9 L443,285.82 L444,285.75 L445,285.7 L446,285.65 L447,285.62 L448,285.6 L449,285.6 L450,285.61 L451,285.63 L452,285.67 L453,285.72 L454,285.78 L455,285.85 L456,285.93 L457,286.03 L458,286.13 L459,286.24 L460,286.36 L461,286.49 L462,286.62 L463,286.75 L464,286.89 L465,287.02 L466,287.16 L467,287.3 L468,287.44 L469,287.57 L470,287.71 L471,287.84 L472,287.96 L473,288.08 L474,288.2 L475,288.31 L476,288.42 L477,288.51 L478,288.61 L479,288.7 L480,288.78 L481,288.85 L482,288.92 L483,288.98 L484,289.04 L485,289.1 L486,289.14 L487,289.19 L488,289.23 L489,289.26 L490,289.29 L491,289.32 L492,289.35 L493,289.37 L494,289.39 L495,289.4 L496,289.42 L497,289.43 L498,289.44 L499,289.45 L500,289.46 L501,289.47 L502,289.47 L503,289.48 L504,289.48 L505,289.48 L506,289.49 L507,289.49 L508,289.49 L509,289.49 L510,289.49 L511,289.5 L512,289.5 L513,289.5 L514,289.5 L515,289.5 L516,289.5 L517,289.5 L518,289.5 L519,289.5 L520,289.5 L521,289.5 L522,289.5 L523,289.5 L524,289.5 L525,289.5 L526,289.5 L527,289.5 L528,289.5 L529,289.5 L530,289.5 L531,289.5 L532,289.5 L533,289.5 L534,289.5 L535,289.5 L536,289.5 L537,289.5 L538,289.5 L539,289.5 L540,289.5 L541,289.5 L541.6,289.5" fill="none" stroke="#f06418" stroke-width="1.1"/>
<path d="M402,289.3 C405.78,288.9 418.23,287.97 424.7,286.9 C431.17,285.83 436.33,284.45 440.8,282.9 C445.27,281.35 448.3,279.17 451.5,277.6 C454.7,276.03 457.25,274.4 460,273.5 C462.75,272.6 465.33,272.25 468,272.2 C470.67,272.15 473.42,272.53 476,273.2 C478.58,273.87 481.17,274.98 483.5,276.2 C485.83,277.42 487.67,279.2 490,280.5 C492.33,281.8 493.85,283.17 497.5,284 C501.15,284.83 506.93,285.12 511.9,285.5 C516.87,285.88 522.37,286.03 527.3,286.3 C532.23,286.57 539.13,286.97 541.5,287.1" fill="none" stroke="#2a2a2a" stroke-width="1.2"/>
</g>
<rect x="399.1" y="29.2" width="142.7" height="260.8" fill="none" stroke="#6a6a6a" stroke-width="1.2"/>
<line x1="399.6" y1="290" x2="399.6" y2="293.3" stroke="#444" stroke-width="1.1"/>
<line x1="404.65" y1="290" x2="404.65" y2="293.3" stroke="#444" stroke-width="1.1"/>
<line x1="409.7" y1="290" x2="409.7" y2="295.5" stroke="#444" stroke-width="1.1"/>
<line x1="414.75" y1="290" x2="414.75" y2="293.3" stroke="#444" stroke-width="1.1"/>
<line x1="419.8" y1="290" x2="419.8" y2="293.3" stroke="#444" stroke-width="1.1"/>
<line x1="424.85" y1="290" x2="424.85" y2="293.3" stroke="#444" stroke-width="1.1"/>
<line x1="429.9" y1="290" x2="429.9" y2="293.3" stroke="#444" stroke-width="1.1"/>
<line x1="434.95" y1="290" x2="434.95" y2="293.3" stroke="#444" stroke-width="1.1"/>
<line x1="440" y1="290" x2="440" y2="293.3" stroke="#444" stroke-width="1.1"/>
<line x1="445.05" y1="290" x2="445.05" y2="293.3" stroke="#444" stroke-width="1.1"/>
<line x1="450.1" y1="290" x2="450.1" y2="295.5" stroke="#444" stroke-width="1.1"/>
<line x1="455.15" y1="290" x2="455.15" y2="293.3" stroke="#444" stroke-width="1.1"/>
<line x1="460.2" y1="290" x2="460.2" y2="293.3" stroke="#444" stroke-width="1.1"/>
<line x1="465.25" y1="290" x2="465.25" y2="293.3" stroke="#444" stroke-width="1.1"/>
<line x1="470.3" y1="290" x2="470.3" y2="293.3" stroke="#444" stroke-width="1.1"/>
<line x1="475.35" y1="290" x2="475.35" y2="293.3" stroke="#444" stroke-width="1.1"/>
<line x1="480.4" y1="290" x2="480.4" y2="293.3" stroke="#444" stroke-width="1.1"/>
<line x1="485.45" y1="290" x2="485.45" y2="293.3" stroke="#444" stroke-width="1.1"/>
<line x1="490.5" y1="290" x2="490.5" y2="295.5" stroke="#444" stroke-width="1.1"/>
<line x1="495.55" y1="290" x2="495.55" y2="293.3" stroke="#444" stroke-width="1.1"/>
<line x1="500.6" y1="290" x2="500.6" y2="293.3" stroke="#444" stroke-width="1.1"/>
<line x1="505.65" y1="290" x2="505.65" y2="293.3" stroke="#444" stroke-width="1.1"/>
<line x1="510.7" y1="290" x2="510.7" y2="293.3" stroke="#444" stroke-width="1.1"/>
<line x1="515.75" y1="290" x2="515.75" y2="293.3" stroke="#444" stroke-width="1.1"/>
<line x1="520.8" y1="290" x2="520.8" y2="293.3" stroke="#444" stroke-width="1.1"/>
<line x1="525.85" y1="290" x2="525.85" y2="293.3" stroke="#444" stroke-width="1.1"/>
<line x1="530.9" y1="290" x2="530.9" y2="295.5" stroke="#444" stroke-width="1.1"/>
<line x1="535.95" y1="290" x2="535.95" y2="293.3" stroke="#444" stroke-width="1.1"/>
<line x1="541" y1="290" x2="541" y2="293.3" stroke="#444" stroke-width="1.1"/>
<text x="409.7" y="307.8" text-anchor="middle" fill="#1a1a1a" style="font-family:'Liberation Sans';font-size:11.2px;" stroke="#1a1a1a" stroke-width="0.2">720</text>
<text x="450.1" y="307.8" text-anchor="middle" fill="#1a1a1a" style="font-family:'Liberation Sans';font-size:11.2px;" stroke="#1a1a1a" stroke-width="0.2">680</text>
<text x="490.5" y="307.8" text-anchor="middle" fill="#1a1a1a" style="font-family:'Liberation Sans';font-size:11.2px;" stroke="#1a1a1a" stroke-width="0.2">640</text>
<text x="530.9" y="307.8" text-anchor="middle" fill="#1a1a1a" style="font-family:'Liberation Sans';font-size:11.2px;" stroke="#1a1a1a" stroke-width="0.2">600</text>
<text x="470.45" y="323" text-anchor="middle" fill="#1a1a1a" style="font-family:'Liberation Sans';font-size:11.5px;" stroke="#1a1a1a" stroke-width="0.2">Wavelength (nm)</text>
<path d="M265.3,194.6 L265.6,182.6 L266.3,189.5 L266.9,191.5 L267.2,193.5" fill="none" stroke="#7a7a7a" stroke-width="1"/>
<text x="7.2" y="27.9" text-anchor="start" fill="#111" style="font-family:'Liberation Sans';font-size:25.5px;" stroke="#111" stroke-width="0.2">(a)</text>
<text transform="translate(37.2,152.5) rotate(-90)" text-anchor="middle" fill="#1a1a1a" style="font-family:'Liberation Sans';font-size:12.3px;">Intensity (arb. unit)</text>
<text x="60.1" y="49.4" text-anchor="start" fill="#1a1a1a" style="font-family:'Liberation Serif';font-size:18px;font-style:italic;" stroke="#1a1a1a" stroke-width="0.2">(i)</text>
<text x="107.5" y="56.3" text-anchor="start" fill="#111" style="font-family:'Liberation Sans';font-size:13.8px;" stroke="#111" stroke-width="0.2">As-deposited</text>
<text x="234.2" y="49.8" text-anchor="start" fill="#1a1a1a" style="font-family:'Liberation Serif';font-size:18px;font-style:italic;" stroke="#1a1a1a" stroke-width="0.2">(ii)</text>
<text x="281.6" y="53.6" text-anchor="start" fill="#111" style="font-family:'Liberation Sans';font-size:13.8px;" stroke="#111" stroke-width="0.2">After 1 week</text>
<text x="405" y="49.3" text-anchor="start" fill="#1a1a1a" style="font-family:'Liberation Serif';font-size:18px;font-style:italic;" stroke="#1a1a1a" stroke-width="0.2">(iii)</text>
<text x="444" y="56.2" text-anchor="start" fill="#111" style="font-family:'Liberation Sans';font-size:13.8px;" stroke="#111" stroke-width="0.2">After 10 weeks</text>
<text x="56.8" y="156" text-anchor="start" fill="#111" style="font-family:'Liberation Sans';font-size:12.7px;" stroke="#111" stroke-width="0.2">2N2</text>
<text x="56" y="209.7" text-anchor="start" fill="#111" style="font-family:'Liberation Sans';font-size:12.6px;" stroke="#111" stroke-width="0.2">BN2</text>
<text x="55.3" y="258.4" text-anchor="start" fill="#111" style="font-family:'Liberation Sans';font-size:12.6px;" stroke="#111" stroke-width="0.2">2DTBS</text>
<text x="232.6" y="152" text-anchor="start" fill="#111" style="font-family:'Liberation Sans';font-size:12px;" stroke="#111" stroke-width="0.2">2N2</text>
<text x="232.6" y="203.8" text-anchor="start" fill="#111" style="font-family:'Liberation Sans';font-size:12px;" stroke="#111" stroke-width="0.2">BN2</text>
<text x="230.6" y="268" text-anchor="start" fill="#111" style="font-family:'Liberation Sans';font-size:12.4px;" stroke="#111" stroke-width="0.2">2DTBS</text>
<text x="402.8" y="173.6" text-anchor="start" fill="#111" style="font-family:'Liberation Sans';font-size:13.4px;" stroke="#111" stroke-width="0.2">2N2</text>
<text x="402.3" y="228.2" text-anchor="start" fill="#111" style="font-family:'Liberation Sans';font-size:13px;" stroke="#111" stroke-width="0.2">BN2</text>
<text x="402.2" y="275.6" text-anchor="start" fill="#111" style="font-family:'Liberation Sans';font-size:12.1px;" stroke="#111" stroke-width="0.2">2DTBS</text>
<text x="73" y="113.1" text-anchor="start" fill="#d9821c" style="font-family:'Liberation Sans';font-size:20px;" >A</text>
<rect x="86" y="102.9" width="4" height="1.8" fill="#d9821c"/>
<text x="108.7" y="104.2" text-anchor="start" fill="#6fdc5a" style="font-family:'Liberation Sans';font-size:20px;" >A</text>
<text x="122.1" y="98" text-anchor="start" fill="#6fdc5a" style="font-family:'Liberation Sans';font-size:12.6px;" >0</text>
<text x="161.8" y="159.8" text-anchor="start" fill="#f9b6c7" style="font-family:'Liberation Sans';font-size:20px;" >B</text>
<text x="246.6" y="132" text-anchor="start" fill="#d9821c" style="font-family:'Liberation Sans';font-size:20px;" >A</text>
<rect x="259.6" y="121.8" width="4" height="1.8" fill="#d9821c"/>
<text x="277.3" y="120.4" text-anchor="start" fill="#6fdc5a" style="font-family:'Liberation Sans';font-size:20px;" >A</text>
<text x="290" y="115.1" text-anchor="start" fill="#6fdc5a" style="font-family:'Liberation Sans';font-size:12.6px;" >0</text>
<text x="337.5" y="157.6" text-anchor="start" fill="#f9b6c7" style="font-family:'Liberation Sans';font-size:20px;" >B</text>
<text x="430.5" y="154.2" text-anchor="start" fill="#d9821c" style="font-family:'Liberation Sans';font-size:20px;" >A</text>
<rect x="443.5" y="142.8" width="4" height="1.8" fill="#d9821c"/>
<text x="459.7" y="143.3" text-anchor="start" fill="#6fdc5a" style="font-family:'Liberation Sans';font-size:20px;" >A</text>
<text x="472.5" y="137.5" text-anchor="start" fill="#6fdc5a" style="font-family:'Liberation Sans';font-size:12.6px;" >0</text>
<text x="508.3" y="169.5" text-anchor="start" fill="#f9b6c7" style="font-family:'Liberation Sans';font-size:20px;" >B</text>
<text x="136.8" y="102.9" text-anchor="start" fill="#111" style="font-family:'Liberation Serif';font-size:14px;font-style:italic;" stroke="#111" stroke-width="0.2">I</text>
<text x="141" y="105.8" text-anchor="start" fill="#111" style="font-family:'Liberation Serif';font-size:8.5px;font-style:italic;" stroke="#111" stroke-width="0.2">A</text>
<rect x="148.4" y="95.5" width="3" height="0.9" fill="#111"/>
<rect x="136.4" y="107.95" width="16.5" height="0.9" fill="#222"/>
<text x="137.4" y="121.8" text-anchor="start" fill="#111" style="font-family:'Liberation Serif';font-size:14px;font-style:italic;" stroke="#111" stroke-width="0.2">I</text>
<text x="141.4" y="125.5" text-anchor="start" fill="#111" style="font-family:'Liberation Serif';font-size:8.5px;font-style:italic;" stroke="#111" stroke-width="0.2">A</text>
<text x="147.2" y="120.9" text-anchor="start" fill="#111" style="font-family:'Liberation Serif';font-size:6px;" stroke="#111" stroke-width="0.2">0</text>
<text x="156.3" y="113.8" text-anchor="start" fill="#111" style="font-family:'Liberation Serif';font-size:15.5px;" stroke="#111" stroke-width="0.2">=</text>
<text x="171.2" y="113.5" text-anchor="start" fill="#111" style="font-family:'Liberation Serif';font-size:14.5px;" stroke="#111" stroke-width="0.2">0.34</text>
<text x="310.1" y="117.5" text-anchor="start" fill="#111" style="font-family:'Liberation Serif';font-size:14px;font-style:italic;" stroke="#111" stroke-width="0.2">I</text>
<text x="314.3" y="120.4" text-anchor="start" fill="#111" style="font-family:'Liberation Serif';font-size:8.5px;font-style:italic;" stroke="#111" stroke-width="0.2">A</text>
<rect x="321.7" y="110.1" width="3" height="0.9" fill="#111"/>
<rect x="309.7" y="122.55" width="16.5" height="0.9" fill="#222"/>
<text x="310.7" y="136.4" text-anchor="start" fill="#111" style="font-family:'Liberation Serif';font-size:14px;font-style:italic;" stroke="#111" stroke-width="0.2">I</text>
<text x="314.7" y="140.1" text-anchor="start" fill="#111" style="font-family:'Liberation Serif';font-size:8.5px;font-style:italic;" stroke="#111" stroke-width="0.2">A</text>
<text x="320.5" y="135.5" text-anchor="start" fill="#111" style="font-family:'Liberation Serif';font-size:6px;" stroke="#111" stroke-width="0.2">0</text>
<text x="329.6" y="128.4" text-anchor="start" fill="#111" style="font-family:'Liberation Serif';font-size:15.5px;" stroke="#111" stroke-width="0.2">=</text>
<text x="344.5" y="128.1" text-anchor="start" fill="#111" style="font-family:'Liberation Serif';font-size:14.5px;" stroke="#111" stroke-width="0.2">0.48</text>
<text x="196.8" y="138.3" text-anchor="end" fill="#111" style="font-family:'Liberation Serif';font-size:14.5px;" stroke="#111" stroke-width="0.2">C%= 3.1%</text>
<text x="193.2" y="201.3" text-anchor="end" fill="#111" style="font-family:'Liberation Serif';font-size:14.2px;" stroke="#111" stroke-width="0.2">0.43</text>
<text x="195.8" y="218" text-anchor="end" fill="#111" style="font-family:'Liberation Serif';font-size:14.2px;" stroke="#111" stroke-width="0.2">3.9%</text>
<text x="194" y="263.3" text-anchor="end" fill="#111" style="font-family:'Liberation Serif';font-size:14.2px;" stroke="#111" stroke-width="0.2">0.47</text>
<text x="196.6" y="280" text-anchor="end" fill="#111" style="font-family:'Liberation Serif';font-size:14.2px;" stroke="#111" stroke-width="0.2">5.1%</text>
<text x="367" y="206.9" text-anchor="end" fill="#111" style="font-family:'Liberation Serif';font-size:14.2px;" stroke="#111" stroke-width="0.2">0.42</text>
<text x="367" y="269.7" text-anchor="end" fill="#111" style="font-family:'Liberation Serif';font-size:14.2px;" stroke="#111" stroke-width="0.2">0.29</text>
<rect x="21" y="329" width="529" height="319" fill="#fcfcfc"/>
<text x="7.2" y="370.6" text-anchor="start" fill="#111" style="font-family:'Liberation Sans';font-size:25.5px;" stroke="#111" stroke-width="0.2">(b)</text>
<rect x="74.4" y="366.7" width="199.7" height="240.7" fill="none" stroke="#707070" stroke-width="1.2"/>
<line x1="84.4" y1="607.4" x2="84.4" y2="610.8" stroke="#707070" stroke-width="1.1"/>
<line x1="84.4" y1="366.7" x2="84.4" y2="370.1" stroke="#707070" stroke-width="1.1"/>
<text x="84.4" y="621.2" text-anchor="middle" fill="#1a1a1a" style="font-family:'Liberation Sans';font-size:9.6px;" stroke="#1a1a1a" stroke-width="0.15">0</text>
<line x1="111.15" y1="607.4" x2="111.15" y2="609" stroke="#707070" stroke-width="1.1"/>
<line x1="111.15" y1="366.7" x2="111.15" y2="368.3" stroke="#707070" stroke-width="1.1"/>
<line x1="137.9" y1="607.4" x2="137.9" y2="610.8" stroke="#707070" stroke-width="1.1"/>
<line x1="137.9" y1="366.7" x2="137.9" y2="370.1" stroke="#707070" stroke-width="1.1"/>
<text x="137.9" y="621.2" text-anchor="middle" fill="#1a1a1a" style="font-family:'Liberation Sans';font-size:9.6px;" stroke="#1a1a1a" stroke-width="0.15">5</text>
<line x1="164.65" y1="607.4" x2="164.65" y2="609" stroke="#707070" stroke-width="1.1"/>
<line x1="164.65" y1="366.7" x2="164.65" y2="368.3" stroke="#707070" stroke-width="1.1"/>
<line x1="194.4" y1="607.4" x2="194.4" y2="610.8" stroke="#707070" stroke-width="1.1"/>
<line x1="194.4" y1="366.7" x2="194.4" y2="370.1" stroke="#707070" stroke-width="1.1"/>
<text x="194.4" y="621.2" text-anchor="middle" fill="#1a1a1a" style="font-family:'Liberation Sans';font-size:9.6px;" stroke="#1a1a1a" stroke-width="0.15">15</text>
<line x1="220.9" y1="607.4" x2="220.9" y2="609" stroke="#707070" stroke-width="1.1"/>
<line x1="220.9" y1="366.7" x2="220.9" y2="368.3" stroke="#707070" stroke-width="1.1"/>
<line x1="247.4" y1="607.4" x2="247.4" y2="610.8" stroke="#707070" stroke-width="1.1"/>
<line x1="247.4" y1="366.7" x2="247.4" y2="370.1" stroke="#707070" stroke-width="1.1"/>
<text x="247.4" y="621.2" text-anchor="middle" fill="#1a1a1a" style="font-family:'Liberation Sans';font-size:9.6px;" stroke="#1a1a1a" stroke-width="0.15">20</text>
<line x1="71" y1="607.4" x2="74.4" y2="607.4" stroke="#707070" stroke-width="1.1"/>
<line x1="270.7" y1="607.4" x2="274.1" y2="607.4" stroke="#707070" stroke-width="1.1"/>
<text x="68.1" y="610.01" text-anchor="end" fill="#1a1a1a" style="font-family:'Liberation Sans';font-size:9.0px;" stroke="#1a1a1a" stroke-width="0.15">0</text>
<line x1="71" y1="567.28" x2="74.4" y2="567.28" stroke="#707070" stroke-width="1.1"/>
<line x1="270.7" y1="567.28" x2="274.1" y2="567.28" stroke="#707070" stroke-width="1.1"/>
<text x="68.1" y="569.89" text-anchor="end" fill="#1a1a1a" style="font-family:'Liberation Sans';font-size:9.0px;" stroke="#1a1a1a" stroke-width="0.15">20</text>
<line x1="71" y1="527.16" x2="74.4" y2="527.16" stroke="#707070" stroke-width="1.1"/>
<line x1="270.7" y1="527.16" x2="274.1" y2="527.16" stroke="#707070" stroke-width="1.1"/>
<text x="68.1" y="529.77" text-anchor="end" fill="#1a1a1a" style="font-family:'Liberation Sans';font-size:9.0px;" stroke="#1a1a1a" stroke-width="0.15">40</text>
<line x1="71" y1="487.04" x2="74.4" y2="487.04" stroke="#707070" stroke-width="1.1"/>
<line x1="270.7" y1="487.04" x2="274.1" y2="487.04" stroke="#707070" stroke-width="1.1"/>
<text x="68.1" y="489.65" text-anchor="end" fill="#1a1a1a" style="font-family:'Liberation Sans';font-size:9.0px;" stroke="#1a1a1a" stroke-width="0.15">60</text>
<line x1="71" y1="446.92" x2="74.4" y2="446.92" stroke="#707070" stroke-width="1.1"/>
<line x1="270.7" y1="446.92" x2="274.1" y2="446.92" stroke="#707070" stroke-width="1.1"/>
<text x="68.1" y="449.53" text-anchor="end" fill="#1a1a1a" style="font-family:'Liberation Sans';font-size:9.0px;" stroke="#1a1a1a" stroke-width="0.15">80</text>
<line x1="71" y1="406.8" x2="74.4" y2="406.8" stroke="#707070" stroke-width="1.1"/>
<line x1="270.7" y1="406.8" x2="274.1" y2="406.8" stroke="#707070" stroke-width="1.1"/>
<text x="68.1" y="409.41" text-anchor="end" fill="#1a1a1a" style="font-family:'Liberation Sans';font-size:9.0px;" stroke="#1a1a1a" stroke-width="0.15">100</text>
<line x1="71" y1="366.68" x2="74.4" y2="366.68" stroke="#707070" stroke-width="1.1"/>
<line x1="270.7" y1="366.68" x2="274.1" y2="366.68" stroke="#707070" stroke-width="1.1"/>
<text x="68.1" y="369.29" text-anchor="end" fill="#1a1a1a" style="font-family:'Liberation Sans';font-size:9.0px;" stroke="#1a1a1a" stroke-width="0.15">120</text>
<line x1="72.8" y1="587.34" x2="74.4" y2="587.34" stroke="#707070" stroke-width="1.1"/>
<line x1="272.5" y1="587.34" x2="274.1" y2="587.34" stroke="#707070" stroke-width="1.1"/>
<line x1="72.8" y1="547.22" x2="74.4" y2="547.22" stroke="#707070" stroke-width="1.1"/>
<line x1="272.5" y1="547.22" x2="274.1" y2="547.22" stroke="#707070" stroke-width="1.1"/>
<line x1="72.8" y1="507.1" x2="74.4" y2="507.1" stroke="#707070" stroke-width="1.1"/>
<line x1="272.5" y1="507.1" x2="274.1" y2="507.1" stroke="#707070" stroke-width="1.1"/>
<line x1="72.8" y1="466.98" x2="74.4" y2="466.98" stroke="#707070" stroke-width="1.1"/>
<line x1="272.5" y1="466.98" x2="274.1" y2="466.98" stroke="#707070" stroke-width="1.1"/>
<line x1="72.8" y1="426.86" x2="74.4" y2="426.86" stroke="#707070" stroke-width="1.1"/>
<line x1="272.5" y1="426.86" x2="274.1" y2="426.86" stroke="#707070" stroke-width="1.1"/>
<line x1="72.8" y1="386.74" x2="74.4" y2="386.74" stroke="#707070" stroke-width="1.1"/>
<line x1="272.5" y1="386.74" x2="274.1" y2="386.74" stroke="#707070" stroke-width="1.1"/>
<line x1="178.9" y1="369.9" x2="181.6" y2="363.5" stroke="#707070" stroke-width="1.1"/>
<line x1="182.1" y1="369.9" x2="185.3" y2="363.5" stroke="#707070" stroke-width="1.1"/>
<line x1="178.9" y1="610.6" x2="181.6" y2="604.2" stroke="#707070" stroke-width="1.1"/>
<line x1="182.1" y1="610.6" x2="185.3" y2="604.2" stroke="#707070" stroke-width="1.1"/>
<text transform="translate(48,487.3) rotate(-90)" text-anchor="middle" fill="#1a1a1a" style="font-family:'Liberation Sans';font-size:11.6px;">PL Intensity [CCD count]</text>
<text x="174.4" y="638.7" text-anchor="middle" fill="#111" style="font-family:'Liberation Sans';font-size:11.5px;" stroke="#111" stroke-width="0.2">Measurement time [week]</text>
<text x="86.2" y="392" text-anchor="start" fill="#1a1a1a" style="font-family:'Liberation Serif';font-size:18.5px;font-style:italic;" stroke="#1a1a1a" stroke-width="0.2">(i)</text>
<path d="M92.3,462.3 C93.58,463.33 97.28,466.08 100,468.5 C102.72,470.92 105.03,473.6 108.6,476.8 C112.17,480 118.07,484.8 121.4,487.7 C124.73,490.6 125.27,491.77 128.6,494.2 C131.93,496.63 137.33,499.58 141.4,502.3 C145.47,505.02 149.67,508.08 153,510.5 C156.33,512.92 158.57,514.47 161.4,516.8 C164.23,519.13 166.37,521.8 170,524.5 C173.63,527.2 179.2,530.5 183.2,533 C187.2,535.5 190.37,537.75 194,539.5 C197.63,541.25 202.1,542.5 205,543.5 C207.9,544.5 207.62,544.27 211.4,545.5 C215.18,546.73 223.02,549.57 227.7,550.9 C232.38,552.23 237.53,553.07 239.5,553.5" fill="none" stroke="#9b9b9b" stroke-width="6.3" stroke-dasharray="17.4 6.6" stroke-dashoffset="-3.2" stroke-linecap="butt" opacity="0.5"/>
<path d="M93.2,487.7 C93.65,486.18 94.23,481.93 95.9,478.6 C97.57,475.27 101.08,470.12 103.2,467.7 C105.32,465.28 106.47,465.13 108.6,464.1 C110.73,463.07 113.57,462.18 116,461.5 C118.43,460.82 120.87,460.33 123.2,460 C125.53,459.67 127.7,459.33 130,459.5 C132.3,459.67 134.8,460.23 137,461 C139.2,461.77 141.27,462.37 143.2,464.1 C145.13,465.83 145.88,468.37 148.6,471.4 C151.32,474.43 156.77,478.97 159.5,482.3 C162.23,485.63 163.25,488.87 165,491.4 C166.75,493.93 168.18,495.38 170,497.5 C171.82,499.62 174.07,501.77 175.9,504.1 C177.73,506.43 179.15,508.85 181,511.5 C182.85,514.15 184.52,516.62 187,520 C189.48,523.38 193.23,528.3 195.9,531.8 C198.57,535.3 200.65,537.8 203,541 C205.35,544.2 207.5,547.92 210,551 C212.5,554.08 215.5,557.42 218,559.5 C220.5,561.58 222.67,562.25 225,563.5 C227.33,564.75 229.58,565.92 232,567 C234.42,568.08 238.25,569.5 239.5,570" fill="none" stroke="#a165c5" stroke-width="6.3" stroke-dasharray="17.4 6.6" stroke-dashoffset="-3.1" stroke-linecap="butt" opacity="0.5"/>
<path d="M94.3,439.6 C94.45,440.12 94.33,440.8 95.2,442.7 C96.07,444.6 98.17,448.03 99.5,451 C100.83,453.97 101.07,456.5 103.2,460.5 C105.33,464.5 109.33,470.83 112.3,475 C115.27,479.17 118.28,482.47 121,485.5 C123.72,488.53 125.27,490.67 128.6,493.2 C131.93,495.73 136.75,498.58 141,500.7 C145.25,502.82 149.5,504.1 154.1,505.9 C158.7,507.7 164.12,509.65 168.6,511.5 C173.08,513.35 176.75,514.98 181,517 C185.25,519.02 189.18,521.28 194.1,523.6 C199.02,525.92 205.65,529.23 210.5,530.9 C215.35,532.57 218.37,532.58 223.2,533.6 C228.03,534.62 236.78,536.43 239.5,537" fill="none" stroke="#0fc583" stroke-width="6.3" stroke-dasharray="17.4 6.6" stroke-dashoffset="7.4" stroke-linecap="butt" opacity="0.5"/>
<rect x="91" y="487.55" width="8.2" height="8.2" fill="none" stroke="#9f1cf0" stroke-width="1.7"/>
<rect x="112.4" y="424.57" width="8.2" height="8.2" fill="none" stroke="#9f1cf0" stroke-width="1.7"/>
<rect x="144.5" y="454.45" width="8.2" height="8.2" fill="none" stroke="#9f1cf0" stroke-width="1.7"/>
<rect x="165.9" y="489.16" width="8.2" height="8.2" fill="none" stroke="#9f1cf0" stroke-width="1.7"/>
<rect x="200.9" y="546.33" width="8.2" height="8.2" fill="none" stroke="#9f1cf0" stroke-width="1.7"/>
<rect x="243.3" y="570" width="8.2" height="8.2" fill="none" stroke="#9f1cf0" stroke-width="1.7"/>
<path d="M95.1,467.1 L100.7,476.7 L89.5,476.7 Z" fill="none" stroke="#6c6c6c" stroke-width="1.4" stroke-linejoin="miter"/>
<path d="M116.5,471.91 L122.1,481.51 L110.9,481.51 Z" fill="none" stroke="#6c6c6c" stroke-width="1.4" stroke-linejoin="miter"/>
<path d="M148.6,502.2 L154.2,511.8 L143,511.8 Z" fill="none" stroke="#6c6c6c" stroke-width="1.4" stroke-linejoin="miter"/>
<path d="M170,514.64 L175.6,524.24 L164.4,524.24 Z" fill="none" stroke="#6c6c6c" stroke-width="1.4" stroke-linejoin="miter"/>
<path d="M205,526.88 L210.6,536.48 L199.4,536.48 Z" fill="none" stroke="#6c6c6c" stroke-width="1.4" stroke-linejoin="miter"/>
<path d="M247.4,538.31 L253,547.91 L241.8,547.91 Z" fill="none" stroke="#6c6c6c" stroke-width="1.4" stroke-linejoin="miter"/>
<circle cx="95.1" cy="442.71" r="4.6" fill="none" stroke="#0a8f1a" stroke-width="1.8"/>
<circle cx="116.5" cy="494.26" r="4.6" fill="none" stroke="#0a8f1a" stroke-width="1.8"/>
<circle cx="148.6" cy="515.53" r="4.6" fill="none" stroke="#0a8f1a" stroke-width="1.8"/>
<circle cx="170" cy="523.75" r="4.6" fill="none" stroke="#0a8f1a" stroke-width="1.8"/>
<circle cx="205" cy="527.96" r="4.6" fill="none" stroke="#0a8f1a" stroke-width="1.8"/>
<circle cx="247.4" cy="535.99" r="4.6" fill="none" stroke="#0a8f1a" stroke-width="1.8"/>
<path d="M244.3,377.3 L171.4,377.3 L171.4,423.9 L244.3,423.9" fill="none" stroke="#8a8a8a" stroke-width="1"/>
<rect x="182.5" y="382.3" width="8.2" height="8.2" fill="none" stroke="#9f1cf0" stroke-width="1.7"/>
<text x="204.2" y="390" fill="#111" style="font-family:'Liberation Sans';font-size:11.6px;">2DTBS</text>
<path d="M186.6,394.3 L192.2,403.9 L181,403.9 Z" fill="none" stroke="#6c6c6c" stroke-width="1.4" stroke-linejoin="miter"/>
<text x="204.2" y="405.2" fill="#111" style="font-family:'Liberation Sans';font-size:11.6px;">BN2</text>
<circle cx="186.6" cy="415.4" r="4.6" fill="none" stroke="#0a8f1a" stroke-width="1.8"/>
<text x="204.2" y="420" fill="#111" style="font-family:'Liberation Sans';font-size:11.6px;">2N2</text>
<rect x="339" y="366" width="200.1" height="240.6" fill="none" stroke="#707070" stroke-width="1.2"/>
<line x1="349.6" y1="606.6" x2="349.6" y2="610" stroke="#707070" stroke-width="1.1"/>
<line x1="349.6" y1="366" x2="349.6" y2="369.4" stroke="#707070" stroke-width="1.1"/>
<text x="349.6" y="619" text-anchor="middle" fill="#1a1a1a" style="font-family:'Liberation Sans';font-size:9.6px;" stroke="#1a1a1a" stroke-width="0.15">0</text>
<line x1="376.45" y1="606.6" x2="376.45" y2="608.2" stroke="#707070" stroke-width="1.1"/>
<line x1="376.45" y1="366" x2="376.45" y2="367.6" stroke="#707070" stroke-width="1.1"/>
<line x1="403.3" y1="606.6" x2="403.3" y2="610" stroke="#707070" stroke-width="1.1"/>
<line x1="403.3" y1="366" x2="403.3" y2="369.4" stroke="#707070" stroke-width="1.1"/>
<text x="403.3" y="619" text-anchor="middle" fill="#1a1a1a" style="font-family:'Liberation Sans';font-size:9.6px;" stroke="#1a1a1a" stroke-width="0.15">5</text>
<line x1="430.15" y1="606.6" x2="430.15" y2="608.2" stroke="#707070" stroke-width="1.1"/>
<line x1="430.15" y1="366" x2="430.15" y2="367.6" stroke="#707070" stroke-width="1.1"/>
<line x1="459.5" y1="606.6" x2="459.5" y2="610" stroke="#707070" stroke-width="1.1"/>
<line x1="459.5" y1="366" x2="459.5" y2="369.4" stroke="#707070" stroke-width="1.1"/>
<text x="459.5" y="619" text-anchor="middle" fill="#1a1a1a" style="font-family:'Liberation Sans';font-size:9.6px;" stroke="#1a1a1a" stroke-width="0.15">15</text>
<line x1="486" y1="606.6" x2="486" y2="608.2" stroke="#707070" stroke-width="1.1"/>
<line x1="486" y1="366" x2="486" y2="367.6" stroke="#707070" stroke-width="1.1"/>
<line x1="512.5" y1="606.6" x2="512.5" y2="610" stroke="#707070" stroke-width="1.1"/>
<line x1="512.5" y1="366" x2="512.5" y2="369.4" stroke="#707070" stroke-width="1.1"/>
<text x="512.5" y="619" text-anchor="middle" fill="#1a1a1a" style="font-family:'Liberation Sans';font-size:9.6px;" stroke="#1a1a1a" stroke-width="0.15">20</text>
<line x1="335.6" y1="590.42" x2="339" y2="590.42" stroke="#707070" stroke-width="1.1"/>
<line x1="535.7" y1="590.42" x2="539.1" y2="590.42" stroke="#707070" stroke-width="1.1"/>
<text x="334.6" y="593.17" text-anchor="end" fill="#1a1a1a" style="font-family:'Liberation Sans';font-size:9.5px;" stroke="#1a1a1a" stroke-width="0.15">1.83</text>
<line x1="335.6" y1="558.36" x2="339" y2="558.36" stroke="#707070" stroke-width="1.1"/>
<line x1="535.7" y1="558.36" x2="539.1" y2="558.36" stroke="#707070" stroke-width="1.1"/>
<text x="334.6" y="561.11" text-anchor="end" fill="#1a1a1a" style="font-family:'Liberation Sans';font-size:9.5px;" stroke="#1a1a1a" stroke-width="0.15">1.84</text>
<line x1="335.6" y1="526.3" x2="339" y2="526.3" stroke="#707070" stroke-width="1.1"/>
<line x1="535.7" y1="526.3" x2="539.1" y2="526.3" stroke="#707070" stroke-width="1.1"/>
<text x="334.6" y="529.05" text-anchor="end" fill="#1a1a1a" style="font-family:'Liberation Sans';font-size:9.5px;" stroke="#1a1a1a" stroke-width="0.15">1.85</text>
<line x1="335.6" y1="494.24" x2="339" y2="494.24" stroke="#707070" stroke-width="1.1"/>
<line x1="535.7" y1="494.24" x2="539.1" y2="494.24" stroke="#707070" stroke-width="1.1"/>
<text x="334.6" y="496.99" text-anchor="end" fill="#1a1a1a" style="font-family:'Liberation Sans';font-size:9.5px;" stroke="#1a1a1a" stroke-width="0.15">1.86</text>
<line x1="335.6" y1="462.18" x2="339" y2="462.18" stroke="#707070" stroke-width="1.1"/>
<line x1="535.7" y1="462.18" x2="539.1" y2="462.18" stroke="#707070" stroke-width="1.1"/>
<text x="334.6" y="464.93" text-anchor="end" fill="#1a1a1a" style="font-family:'Liberation Sans';font-size:9.5px;" stroke="#1a1a1a" stroke-width="0.15">1.87</text>
<line x1="335.6" y1="430.12" x2="339" y2="430.12" stroke="#707070" stroke-width="1.1"/>
<line x1="535.7" y1="430.12" x2="539.1" y2="430.12" stroke="#707070" stroke-width="1.1"/>
<text x="334.6" y="432.88" text-anchor="end" fill="#1a1a1a" style="font-family:'Liberation Sans';font-size:9.5px;" stroke="#1a1a1a" stroke-width="0.15">1.88</text>
<line x1="335.6" y1="398.06" x2="339" y2="398.06" stroke="#707070" stroke-width="1.1"/>
<line x1="535.7" y1="398.06" x2="539.1" y2="398.06" stroke="#707070" stroke-width="1.1"/>
<text x="334.6" y="400.82" text-anchor="end" fill="#1a1a1a" style="font-family:'Liberation Sans';font-size:9.5px;" stroke="#1a1a1a" stroke-width="0.15">1.89</text>
<line x1="335.6" y1="366" x2="339" y2="366" stroke="#707070" stroke-width="1.1"/>
<line x1="535.7" y1="366" x2="539.1" y2="366" stroke="#707070" stroke-width="1.1"/>
<text x="334.6" y="368.75" text-anchor="end" fill="#1a1a1a" style="font-family:'Liberation Sans';font-size:9.5px;" stroke="#1a1a1a" stroke-width="0.15">1.9</text>
<line x1="337.4" y1="574.39" x2="339" y2="574.39" stroke="#707070" stroke-width="1.1"/>
<line x1="537.5" y1="574.39" x2="539.1" y2="574.39" stroke="#707070" stroke-width="1.1"/>
<line x1="337.4" y1="542.33" x2="339" y2="542.33" stroke="#707070" stroke-width="1.1"/>
<line x1="537.5" y1="542.33" x2="539.1" y2="542.33" stroke="#707070" stroke-width="1.1"/>
<line x1="337.4" y1="510.27" x2="339" y2="510.27" stroke="#707070" stroke-width="1.1"/>
<line x1="537.5" y1="510.27" x2="539.1" y2="510.27" stroke="#707070" stroke-width="1.1"/>
<line x1="337.4" y1="478.21" x2="339" y2="478.21" stroke="#707070" stroke-width="1.1"/>
<line x1="537.5" y1="478.21" x2="539.1" y2="478.21" stroke="#707070" stroke-width="1.1"/>
<line x1="337.4" y1="446.15" x2="339" y2="446.15" stroke="#707070" stroke-width="1.1"/>
<line x1="537.5" y1="446.15" x2="539.1" y2="446.15" stroke="#707070" stroke-width="1.1"/>
<line x1="337.4" y1="414.09" x2="339" y2="414.09" stroke="#707070" stroke-width="1.1"/>
<line x1="537.5" y1="414.09" x2="539.1" y2="414.09" stroke="#707070" stroke-width="1.1"/>
<line x1="337.4" y1="382.03" x2="339" y2="382.03" stroke="#707070" stroke-width="1.1"/>
<line x1="537.5" y1="382.03" x2="539.1" y2="382.03" stroke="#707070" stroke-width="1.1"/>
<line x1="443.5" y1="369.2" x2="446.2" y2="362.8" stroke="#707070" stroke-width="1.1"/>
<line x1="446.7" y1="369.2" x2="449.9" y2="362.8" stroke="#707070" stroke-width="1.1"/>
<line x1="443.5" y1="609.8" x2="446.2" y2="603.4" stroke="#707070" stroke-width="1.1"/>
<line x1="446.7" y1="609.8" x2="449.9" y2="603.4" stroke="#707070" stroke-width="1.1"/>
<text transform="translate(312.6,485.2) rotate(-90)" text-anchor="middle" fill="#1a1a1a" style="font-family:'Liberation Sans';font-size:11.6px;">PL Energy [eV]</text>
<text x="439.6" y="635.8" text-anchor="middle" fill="#111" style="font-family:'Liberation Sans';font-size:11.5px;" stroke="#111" stroke-width="0.2">Measurement time [week]</text>
<text x="349.3" y="397.7" text-anchor="start" fill="#1a1a1a" style="font-family:'Liberation Serif';font-size:18.5px;font-style:italic;" stroke="#1a1a1a" stroke-width="0.2">(ii)</text>
<path d="M361,551.1 C362.25,548.02 366.02,538.47 368.5,532.6 C370.98,526.73 373.43,521.45 375.9,515.9 C378.37,510.35 380.83,504.85 383.3,499.3 C385.77,493.75 388.23,487.85 390.7,482.6 C393.17,477.35 395.62,472.43 398.1,467.8 C400.58,463.17 403.12,458.82 405.6,454.8 C408.08,450.78 410.78,446.83 413,443.7 C415.22,440.57 416.23,438.62 418.9,436 C421.57,433.38 425.98,430.17 429,428 C432.02,425.83 434.35,424.42 437,423 C439.65,421.58 442.23,420.2 444.9,419.5 C447.57,418.8 450.23,418.63 453,418.8 C455.77,418.97 458.52,419.53 461.5,420.5 C464.48,421.47 467.98,423.27 470.9,424.6 C473.82,425.93 476.23,427.13 479,428.5 C481.77,429.87 484.5,430.97 487.5,432.8 C490.5,434.63 493.85,437.33 497,439.5 C500.15,441.67 504.23,444.38 506.4,445.8 C508.57,447.22 509.4,447.63 510,448" fill="none" stroke="#a165c5" stroke-width="6.3" stroke-dasharray="17.4 6.6" stroke-dashoffset="6.7" stroke-linecap="butt" opacity="0.5"/>
<path d="M361,551.5 C362,549.25 364.83,542.7 367,538 C369.17,533.3 370.97,528.52 374,523.3 C377.03,518.08 381.8,511.93 385.2,506.7 C388.6,501.47 391.32,496.53 394.4,491.9 C397.48,487.27 400.6,483.23 403.7,478.9 C406.8,474.57 409.92,469.92 413,465.9 C416.08,461.88 419.12,458.5 422.2,454.8 C425.28,451.1 428.53,447.08 431.5,443.7 C434.47,440.32 437.25,437.28 440,434.5 C442.75,431.72 445.33,429.33 448,427 C450.67,424.67 453.37,422.5 456,420.5 C458.63,418.5 461.13,416.5 463.8,415 C466.47,413.5 469.23,412.42 472,411.5 C474.77,410.58 476.57,409.92 480.4,409.5 C484.23,409.08 491.07,408.75 495,409 C498.93,409.25 502.5,410.67 504,411" fill="none" stroke="#9b9b9b" stroke-width="6.3" stroke-dasharray="17.4 6.6" stroke-dashoffset="-4" stroke-linecap="butt" opacity="0.5"/>
<path d="M361,551.5 C362.25,549.58 365.7,544.38 368.5,540 C371.3,535.62 374.4,529.98 377.8,525.2 C381.2,520.42 385.52,515.32 388.9,511.3 C392.28,507.28 395.32,504.18 398.1,501.1 C400.88,498.02 402.82,495.88 405.6,492.8 C408.38,489.72 411.72,485.85 414.8,482.6 C417.88,479.35 421.02,476.38 424.1,473.3 C427.18,470.22 430.22,467.18 433.3,464.1 C436.38,461.02 439.48,458.05 442.6,454.8 C445.72,451.55 449.1,447.57 452,444.6 C454.9,441.63 457.23,439.35 460,437 C462.77,434.65 465.27,433.08 468.6,430.5 C471.93,427.92 475.67,424.47 480,421.5 C484.33,418.53 490.77,414.7 494.6,412.7 C498.43,410.7 500.05,410.53 503,409.5 C505.95,408.47 510.75,407 512.3,406.5" fill="none" stroke="#0fc583" stroke-width="6.3" stroke-dasharray="17.4 6.6" stroke-dashoffset="-1.7" stroke-linecap="butt" opacity="0.5"/>
<rect x="356.24" y="553.3" width="8.2" height="8.2" fill="none" stroke="#9f1cf0" stroke-width="1.7"/>
<rect x="377.72" y="464.49" width="8.2" height="8.2" fill="none" stroke="#9f1cf0" stroke-width="1.7"/>
<rect x="409.94" y="429.23" width="8.2" height="8.2" fill="none" stroke="#9f1cf0" stroke-width="1.7"/>
<rect x="431.42" y="415.76" width="8.2" height="8.2" fill="none" stroke="#9f1cf0" stroke-width="1.7"/>
<rect x="466" y="422.81" width="8.2" height="8.2" fill="none" stroke="#9f1cf0" stroke-width="1.7"/>
<rect x="508.4" y="448.46" width="8.2" height="8.2" fill="none" stroke="#9f1cf0" stroke-width="1.7"/>
<path d="M360.34,541.56 L365.94,551.16 L354.74,551.16 Z" fill="none" stroke="#6c6c6c" stroke-width="1.4" stroke-linejoin="miter"/>
<path d="M381.82,523.61 L387.42,533.21 L376.22,533.21 Z" fill="none" stroke="#6c6c6c" stroke-width="1.4" stroke-linejoin="miter"/>
<path d="M414.04,465.9 L419.64,475.5 L408.44,475.5 Z" fill="none" stroke="#6c6c6c" stroke-width="1.4" stroke-linejoin="miter"/>
<path d="M435.52,469.1 L441.12,478.7 L429.92,478.7 Z" fill="none" stroke="#6c6c6c" stroke-width="1.4" stroke-linejoin="miter"/>
<path d="M470.1,400.5 L475.7,410.1 L464.5,410.1 Z" fill="none" stroke="#6c6c6c" stroke-width="1.4" stroke-linejoin="miter"/>
<path d="M512.5,413 L518.1,422.6 L506.9,422.6 Z" fill="none" stroke="#6c6c6c" stroke-width="1.4" stroke-linejoin="miter"/>
<circle cx="360.34" cy="544.89" r="4.6" fill="none" stroke="#0a8f1a" stroke-width="1.8"/>
<circle cx="381.82" cy="545.54" r="4.6" fill="none" stroke="#0a8f1a" stroke-width="1.8"/>
<circle cx="414.04" cy="519.89" r="4.6" fill="none" stroke="#0a8f1a" stroke-width="1.8"/>
<circle cx="435.52" cy="494.24" r="4.6" fill="none" stroke="#0a8f1a" stroke-width="1.8"/>
<circle cx="470.1" cy="416.98" r="4.6" fill="none" stroke="#0a8f1a" stroke-width="1.8"/>
<circle cx="512.5" cy="413.77" r="4.6" fill="none" stroke="#0a8f1a" stroke-width="1.8"/>
<path d="M438.5,571.4 L438.5,520.1 L511,520.1" fill="none" stroke="#8a8a8a" stroke-width="1"/>
<rect x="449.5" y="524.7" width="8.2" height="8.2" fill="none" stroke="#9f1cf0" stroke-width="1.7"/>
<text x="470.9" y="532.6" fill="#111" style="font-family:'Liberation Sans';font-size:12.1px;">2DTBS</text>
<path d="M453.6,537.5 L459.2,547.1 L448,547.1 Z" fill="none" stroke="#6c6c6c" stroke-width="1.4" stroke-linejoin="miter"/>
<text x="470.9" y="547.3" fill="#111" style="font-family:'Liberation Sans';font-size:12.1px;">BN<tspan dy="3" style="font-size:8px">2</tspan></text>
<circle cx="453.6" cy="561.5" r="4.6" fill="none" stroke="#0a8f1a" stroke-width="1.8"/>
<text x="470.9" y="564" fill="#111" style="font-family:'Liberation Sans';font-size:12.1px;">2N<tspan dy="3" style="font-size:8px">2</tspan></text></svg>
</body></html>
